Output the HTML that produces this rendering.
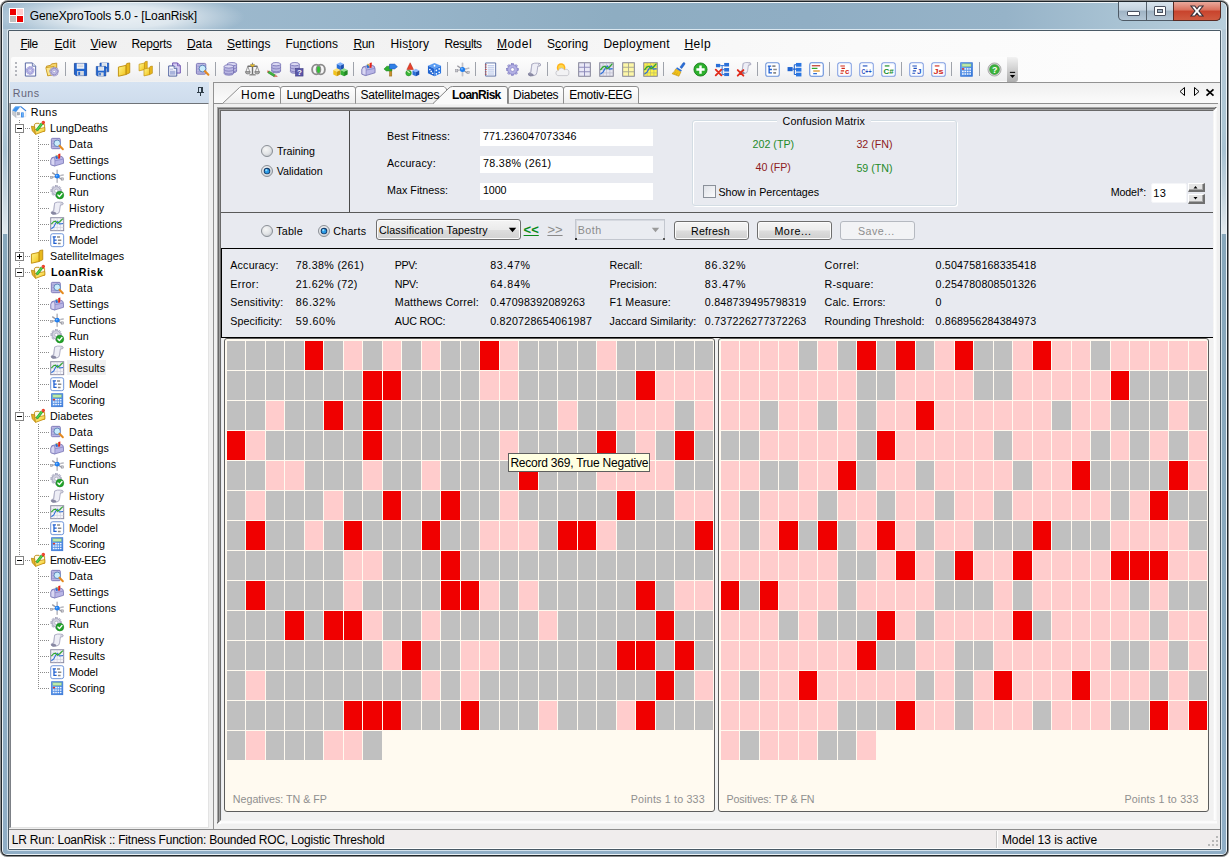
<!DOCTYPE html>
<html><head><meta charset="utf-8"><title>GeneXproTools 5.0 - [LoanRisk]</title>
<style>
html,body{margin:0;padding:0;background:#fff;}
body{width:1229px;height:857px;overflow:hidden;position:relative;font-family:"Liberation Sans",sans-serif;}
.t{position:absolute;white-space:pre;line-height:14px;font-family:"Liberation Sans",sans-serif;}
div,svg,span{box-sizing:border-box;}
u{text-decoration:underline;}
</style></head><body>

<div style="position:absolute;left:0px;top:0px;width:1229px;height:857px;border-radius:8px 8px 7px 7px;background:#8e8e8e;"></div>
<div style="position:absolute;left:1px;top:1px;width:1227px;height:855px;border-radius:7px 7px 6px 6px;background:#20262b;"></div>
<div style="position:absolute;left:2px;top:2px;width:1225px;height:853px;border-radius:6px 6px 5px 5px;background:#eef4f8;"></div>
<div style="position:absolute;left:3px;top:3px;width:1223px;height:851px;border-radius:5px 5px 4px 4px;background:linear-gradient(to bottom,#b6cad8 0px,#b4c8d6 37px,#acc6d4 127px,#a8c2d2 147px,#c4d4de 192px,#e2e9ed 230.500px,#87a7bb 231px,#8aaac0 600px,#90aec6 854px);"></div>
<div style="position:absolute;left:3px;top:3px;width:1223px;height:26px;border-radius:5px 5px 0 0;background:linear-gradient(to right,#a2bdd1 0%,#98b5ca 30%,#8eadc2 50%,#90aec4 66%,#96b3c8 82%,#a8c2d3 91%,#b9cfdc 100%);"></div>
<div style="position:absolute;left:3px;top:3px;width:1223px;height:26px;overflow:hidden;border-radius:5px 5px 0 0"><div style="position:absolute;left:-8px;top:-10px;width:250px;height:48px;background:radial-gradient(ellipse closest-side at center,rgba(255,255,255,.78) 0%,rgba(255,255,255,.66) 45%,rgba(255,255,255,.3) 75%,rgba(255,255,255,0) 100%)"></div></div>
<div style="position:absolute;left:3px;top:850px;width:1223px;height:4px;border-radius:0 0 4px 4px;background:#90aec6;"></div>
<div style="position:absolute;left:7px;top:29px;width:1215px;height:822px;background:rgba(232,242,248,.75);border-radius:2px;"></div>
<div style="position:absolute;left:9px;top:8px;width:15px;height:15px;background:#fff;"></div>
<div style="position:absolute;left:10px;top:9px;width:6px;height:6px;background:#ee0000;"></div>
<div style="position:absolute;left:17px;top:9px;width:6px;height:6px;background:#ffcccc;"></div>
<div style="position:absolute;left:10px;top:16px;width:6px;height:6px;background:#c0c0c0;"></div>
<div style="position:absolute;left:17px;top:16px;width:6px;height:6px;background:#ee0000;"></div>
<span class="t" style="left:29.7px;top:9px;font-size:12px;color:#000;letter-spacing:-0.093px;">GeneXproTools 5.0 - [LoanRisk]</span>
<div style="position:absolute;left:1118px;top:2px;width:103px;height:19px;border:1px solid #4e5a66;border-top:none;border-radius:0 0 5px 5px;background:linear-gradient(#d9e4ed 0%,#c5d3df 45%,#9fb3c4 50%,#b4c6d5 100%);"></div>
<div style="position:absolute;left:1173px;top:2px;width:48px;height:19px;border:1px solid #5a2a22;border-top:none;border-radius:0 0 5px 0;background:linear-gradient(#e9a99c 0%,#d9705c 45%,#c8432c 50%,#d05a40 100%);"></div>
<div style="position:absolute;left:1146px;top:2px;width:1px;height:18px;background:#56616c;"></div>
<div style="position:absolute;left:1127px;top:11px;width:13px;height:5px;background:#fff;border:1px solid #4a5160;border-radius:1px;"></div>
<div style="position:absolute;left:1154px;top:6px;width:12px;height:10px;background:#fff;border:1px solid #4a5160;border-radius:1px;"></div>
<div style="position:absolute;left:1157px;top:9px;width:6px;height:4px;background:#9fb3c4;border:1px solid #4a5160;"></div>
<svg style="position:absolute;left:1190px;top:5px" width="14" height="12" viewBox="0 0 14 12"><path d="M1 1h3.800L7 3.800 9.200 1H13L9 6l4 5H9.200L7 8.200 4.800 11H1L5 6z" fill="#fff" stroke="#3a3038" stroke-width="1.1"/></svg>
<div style="position:absolute;left:8px;top:30px;width:1213px;height:820px;background:#f0f0f0;border:1px solid #4a5a66;border-radius:1px;"></div>
<div style="position:absolute;left:9px;top:31px;width:1211px;height:1px;background:#fff;"></div>
<div style="position:absolute;left:9px;top:31px;width:1211px;height:51px;background:linear-gradient(to right,#f0f0f0 0%,#f3f3f3 35%,#fafafa 70%,#fdfdfd 100%);"></div>
<span class="t" style="left:20.4px;top:37px;font-size:12px;color:#000;letter-spacing:-0.553px;"><u>F</u>ile</span>
<span class="t" style="left:54.4px;top:37px;font-size:12px;color:#000;letter-spacing:0.166px;"><u>E</u>dit</span>
<span class="t" style="left:90.4px;top:37px;font-size:12px;color:#000;letter-spacing:0.129px;"><u>V</u>iew</span>
<span class="t" style="left:131.4px;top:37px;font-size:12px;color:#000;letter-spacing:-0.224px;">Rep<u>o</u>rts</span>
<span class="t" style="left:186.9px;top:37px;font-size:12px;color:#000;letter-spacing:-0.053px;"><u>D</u>ata</span>
<span class="t" style="left:226.9px;top:37px;font-size:12px;color:#000;letter-spacing:0.046px;"><u>S</u>ettings</span>
<span class="t" style="left:285.4px;top:37px;font-size:12px;color:#000;letter-spacing:0.080px;">Fu<u>n</u>ctions</span>
<span class="t" style="left:353.4px;top:37px;font-size:12px;color:#000;letter-spacing:-0.416px;"><u>R</u>un</span>
<span class="t" style="left:390.4px;top:37px;font-size:12px;color:#000;letter-spacing:0.223px;">His<u>t</u>ory</span>
<span class="t" style="left:444.4px;top:37px;font-size:12px;color:#000;letter-spacing:-0.389px;">Res<u>u</u>lts</span>
<span class="t" style="left:496.9px;top:37px;font-size:12px;color:#000;letter-spacing:0.503px;"><u>M</u>odel</span>
<span class="t" style="left:546.9px;top:37px;font-size:12px;color:#000;letter-spacing:0.083px;">S<u>c</u>oring</span>
<span class="t" style="left:603.4px;top:37px;font-size:12px;color:#000;letter-spacing:0.239px;">Deplo<u>y</u>ment</span>
<span class="t" style="left:684.4px;top:37px;font-size:12px;color:#000;letter-spacing:0.504px;"><u>H</u>elp</span>
<div style="position:absolute;left:11px;top:57px;width:1000px;height:24px;background:linear-gradient(#fdfdfd 0%,#f7f7f8 50%,#eeeeef 100%);border-radius:2px 0 0 2px;"></div>
<div style="position:absolute;left:1007px;top:57px;width:11px;height:25px;background:linear-gradient(#f2f2f2,#d0d0d0 50%,#acacac);border-radius:0 3px 3px 0;"></div>
<svg style="position:absolute;left:1009px;top:71px" width="7" height="8" viewBox="0 0 8 9"><path d="M1 1.500h6" stroke="#000" stroke-width="1.2"/><path d="M1 4.500h6L4 8z" fill="#000"/></svg>
<div style="position:absolute;left:15px;top:62px;width:2px;height:2px;background:#b4b6bc;"></div>
<div style="position:absolute;left:15px;top:66px;width:2px;height:2px;background:#b4b6bc;"></div>
<div style="position:absolute;left:15px;top:70px;width:2px;height:2px;background:#b4b6bc;"></div>
<div style="position:absolute;left:15px;top:74px;width:2px;height:2px;background:#b4b6bc;"></div>
<svg style="position:absolute;left:22.5px;top:61.7px;overflow:visible" width="15" height="15" viewBox="0 0 16 16"><path d="M2.500 1H10L13.500 4.500V15H2.500Z" fill="#fdfdff" stroke="#4f5f9f" stroke-width="1"/><path d="M10 1V4.500H13.500" fill="#dfe4f2" stroke="#4f5f9f" stroke-width=".8"/><g transform="translate(7.6,9.2)"><rect x="-1.2" y="-4.2" width="2.4" height="2.8" fill="#c4c1ea" stroke="#8f8bd0" stroke-width=".5" transform="rotate(0)"/><rect x="-1.2" y="-4.2" width="2.4" height="2.8" fill="#c4c1ea" stroke="#8f8bd0" stroke-width=".5" transform="rotate(45)"/><rect x="-1.2" y="-4.2" width="2.4" height="2.8" fill="#c4c1ea" stroke="#8f8bd0" stroke-width=".5" transform="rotate(90)"/><rect x="-1.2" y="-4.2" width="2.4" height="2.8" fill="#c4c1ea" stroke="#8f8bd0" stroke-width=".5" transform="rotate(135)"/><rect x="-1.2" y="-4.2" width="2.4" height="2.8" fill="#c4c1ea" stroke="#8f8bd0" stroke-width=".5" transform="rotate(180)"/><rect x="-1.2" y="-4.2" width="2.4" height="2.8" fill="#c4c1ea" stroke="#8f8bd0" stroke-width=".5" transform="rotate(225)"/><rect x="-1.2" y="-4.2" width="2.4" height="2.8" fill="#c4c1ea" stroke="#8f8bd0" stroke-width=".5" transform="rotate(270)"/><rect x="-1.2" y="-4.2" width="2.4" height="2.8" fill="#c4c1ea" stroke="#8f8bd0" stroke-width=".5" transform="rotate(315)"/><circle r="2.9" fill="#c4c1ea" stroke="#8f8bd0" stroke-width=".6"/><circle r="1.1019999999999999" fill="#fff" stroke="#8f8bd0" stroke-width=".5"/></g></svg>
<svg style="position:absolute;left:44.5px;top:61.7px;overflow:visible" width="15" height="15" viewBox="0 0 16 16"><path d="M1.5 4.5 L6 3.5 L7 2 L12.5 1.2 L12.5 12.5 L3 14.5Z" fill="#f6d56a" stroke="#bf8a12" stroke-width=".9"/><path d="M.8 6 L9.5 4.8 L11 13 L3 14.8Z" fill="#fbe58c" stroke="#c39214" stroke-width=".8"/><g transform="translate(9.8,10.2)"><rect x="-1.2" y="-4.7" width="2.4" height="2.8" fill="#c3c0e8" stroke="#7e7ab8" stroke-width=".5" transform="rotate(0)"/><rect x="-1.2" y="-4.7" width="2.4" height="2.8" fill="#c3c0e8" stroke="#7e7ab8" stroke-width=".5" transform="rotate(45)"/><rect x="-1.2" y="-4.7" width="2.4" height="2.8" fill="#c3c0e8" stroke="#7e7ab8" stroke-width=".5" transform="rotate(90)"/><rect x="-1.2" y="-4.7" width="2.4" height="2.8" fill="#c3c0e8" stroke="#7e7ab8" stroke-width=".5" transform="rotate(135)"/><rect x="-1.2" y="-4.7" width="2.4" height="2.8" fill="#c3c0e8" stroke="#7e7ab8" stroke-width=".5" transform="rotate(180)"/><rect x="-1.2" y="-4.7" width="2.4" height="2.8" fill="#c3c0e8" stroke="#7e7ab8" stroke-width=".5" transform="rotate(225)"/><rect x="-1.2" y="-4.7" width="2.4" height="2.8" fill="#c3c0e8" stroke="#7e7ab8" stroke-width=".5" transform="rotate(270)"/><rect x="-1.2" y="-4.7" width="2.4" height="2.8" fill="#c3c0e8" stroke="#7e7ab8" stroke-width=".5" transform="rotate(315)"/><circle r="3.4" fill="#c3c0e8" stroke="#7e7ab8" stroke-width=".6"/><circle r="1.292" fill="#fff" stroke="#7e7ab8" stroke-width=".5"/></g></svg>
<div style="position:absolute;left:65px;top:62px;width:1px;height:14px;background:#9fa3ab;"></div>
<svg style="position:absolute;left:72.5px;top:61.7px;overflow:visible" width="15" height="15" viewBox="0 0 16 16"><g transform="translate(0,0) scale(1)"><path d="M1.5 1.5H14.5V14.5H3L1.5 13Z" fill="#2366cf" stroke="#123f9a" stroke-width=".8"/><rect x="4" y="1.6" width="8" height="5.6" fill="#f4f6fa"/><path d="M5 3.3h6M5 5h6" stroke="#b5bcc8" stroke-width=".7"/><rect x="4.4" y="9.6" width="7.2" height="4.9" fill="#d4d8e0"/><rect x="5.6" y="10.4" width="2" height="3.4" fill="#2366cf"/></g></svg>
<svg style="position:absolute;left:94.5px;top:61.7px;overflow:visible" width="15" height="15" viewBox="0 0 16 16"><g transform="translate(4.2,0) scale(0.72)"><path d="M1.5 1.5H14.5V14.5H3L1.5 13Z" fill="#2366cf" stroke="#123f9a" stroke-width=".8"/><rect x="4" y="1.6" width="8" height="5.6" fill="#f4f6fa"/><path d="M5 3.3h6M5 5h6" stroke="#b5bcc8" stroke-width=".7"/><rect x="4.4" y="9.6" width="7.2" height="4.9" fill="#d4d8e0"/><rect x="5.6" y="10.4" width="2" height="3.4" fill="#2366cf"/></g><g transform="translate(0.2,3.6) scale(0.78)"><path d="M1.5 1.5H14.5V14.5H3L1.5 13Z" fill="#2366cf" stroke="#123f9a" stroke-width=".8"/><rect x="4" y="1.6" width="8" height="5.6" fill="#f4f6fa"/><path d="M5 3.3h6M5 5h6" stroke="#b5bcc8" stroke-width=".7"/><rect x="4.4" y="9.6" width="7.2" height="4.9" fill="#d4d8e0"/><rect x="5.6" y="10.4" width="2" height="3.4" fill="#2366cf"/></g></svg>
<svg style="position:absolute;left:116.5px;top:61.7px;overflow:visible" width="15" height="15" viewBox="0 0 16 16"><defs><linearGradient id="fg" x1="0" y1="0" x2="1" y2="1"><stop offset="0" stop-color="#fff68f"/><stop offset="1" stop-color="#f2c216"/></linearGradient></defs><path d="M9.500 3.600 L10.400 1.600 L13.600 1 L13.600 11.400 L9.500 13.400Z" fill="#e8b81c" stroke="#b8860b" stroke-width=".9"/><path d="M1.500 5.400 L9.500 3.600 L9.500 13.400 L1.500 15.200Z" fill="url(#fg)" stroke="#c08f0e" stroke-width="1"/></svg>
<svg style="position:absolute;left:138.5px;top:61.7px;overflow:visible" width="15" height="15" viewBox="0 0 16 16"><g transform="translate(-1,-1.5) scale(.72)"><defs><linearGradient id="fg" x1="0" y1="0" x2="1" y2="1"><stop offset="0" stop-color="#fff68f"/><stop offset="1" stop-color="#f2c216"/></linearGradient></defs><path d="M9.500 3.600 L10.400 1.600 L13.600 1 L13.600 11.400 L9.500 13.400Z" fill="#e8b81c" stroke="#b8860b" stroke-width=".9"/><path d="M1.500 5.400 L9.500 3.600 L9.500 13.400 L1.500 15.200Z" fill="url(#fg)" stroke="#c08f0e" stroke-width="1"/></g><g transform="translate(4.2,3.6) scale(.74)"><defs><linearGradient id="fg" x1="0" y1="0" x2="1" y2="1"><stop offset="0" stop-color="#fff68f"/><stop offset="1" stop-color="#f2c216"/></linearGradient></defs><path d="M9.500 3.600 L10.400 1.600 L13.600 1 L13.600 11.400 L9.500 13.400Z" fill="#e8b81c" stroke="#b8860b" stroke-width=".9"/><path d="M1.500 5.400 L9.500 3.600 L9.500 13.400 L1.500 15.200Z" fill="url(#fg)" stroke="#c08f0e" stroke-width="1"/></g></svg>
<div style="position:absolute;left:159px;top:62px;width:1px;height:14px;background:#9fa3ab;"></div>
<svg style="position:absolute;left:166.5px;top:61.7px;overflow:visible" width="15" height="15" viewBox="0 0 16 16"><path d="M6 1H11.200L14.200 4V11.800H6Z" fill="#d5cdf2" stroke="#6b4fb0" stroke-width="1"/><path d="M11.200 1V4H14.200" fill="none" stroke="#6b4fb0" stroke-width=".8"/><path d="M1.800 4.200H7.600L10.400 7V15H1.800Z" fill="#fbfbff" stroke="#44599a" stroke-width="1"/><path d="M7.600 4.200V7H10.400" fill="#e4e8f6" stroke="#44599a" stroke-width=".8"/><rect x="3.200" y="9.200" width="5.800" height="4.400" fill="#a9b4dc"/><path d="M3.200 7.600h3.400" stroke="#8e9bc8" stroke-width=".8"/></svg>
<div style="position:absolute;left:187px;top:62px;width:1px;height:14px;background:#9fa3ab;"></div>
<svg style="position:absolute;left:194.5px;top:61.7px;overflow:visible" width="15" height="15" viewBox="0 0 16 16"><rect x="1.5" y="1.5" width="10" height="11.5" rx="1.2" fill="#b9b6e2" stroke="#6f6bb0" stroke-width=".9"/><path d="M2.5 4.5h8M2.5 7.5h8M2.5 10.5h8" stroke="#8f8bc8" stroke-width=".7"/><circle cx="8" cy="7" r="3.6" fill="#c8ecfb" stroke="#5a7fb5" stroke-width="1"/><path d="M10.6 9.8 L14.3 13.6" stroke="#e58a1f" stroke-width="2.2" stroke-linecap="round"/></svg>
<div style="position:absolute;left:215px;top:62px;width:1px;height:14px;background:#9fa3ab;"></div>
<svg style="position:absolute;left:222.5px;top:61.7px;overflow:visible" width="15" height="15" viewBox="0 0 16 16"><path d="M4.5 2.3V9.8A5.0 1.8 0 0 0 14.5 9.8V2.3Z" fill="#b9b6e2" stroke="#6f6bb0" stroke-width=".8"/><ellipse cx="9.5" cy="2.3" rx="5.0" ry="1.8" fill="#dcdaf3" stroke="#6f6bb0" stroke-width=".8"/><path d="M4.5 5.6A5.0 1.8 0 0 0 14.5 5.6M4.5 8.6A5.0 1.8 0 0 0 14.5 8.6" fill="none" stroke="#6f6bb0" stroke-width=".7"/><path d="M1.2 4.7V12.3A5.0 1.8 0 0 0 11.2 12.3V4.7Z" fill="#b9b6e2" stroke="#6f6bb0" stroke-width=".8"/><ellipse cx="6.2" cy="4.7" rx="5.0" ry="1.8" fill="#dcdaf3" stroke="#6f6bb0" stroke-width=".8"/><path d="M1.2 8.0A5.0 1.8 0 0 0 11.2 8.0M1.2 11.0A5.0 1.8 0 0 0 11.2 11.0" fill="none" stroke="#6f6bb0" stroke-width=".7"/></svg>
<svg style="position:absolute;left:244.5px;top:61.7px;overflow:visible" width="15" height="15" viewBox="0 0 16 16"><path d="M8 2.500V13M2.800 4.600H13.200" stroke="#6e6e6e" stroke-width="1.500"/><path d="M4.500 14.400H11.500V13.200Q8 11.800 4.500 13.200Z" fill="#8a8a8a"/><path d="M3 4.600L.9 10.500H5.100Z M13 4.600L10.900 10.500H15.100Z" fill="none" stroke="#7a7a7a" stroke-width=".8"/><path d="M.4 10.400H5.600A2.600 2.400 0 0 1 .4 10.400ZM10.400 10.400H15.600A2.600 2.400 0 0 1 10.400 10.400Z" fill="#b4b4b4" stroke="#6a6a6a" stroke-width=".7"/><path d="M5.800 2.600H10.200L9 4.800H7Z" fill="#f0c830" stroke="#a98310" stroke-width=".5"/><rect x="7.400" y=".8" width="1.200" height="2" fill="#8a8a8a"/></svg>
<svg style="position:absolute;left:266.5px;top:61.7px;overflow:visible" width="15" height="15" viewBox="0 0 16 16"><path d="M5 2.3V9.8A4.75 1.8 0 0 0 14.5 9.8V2.3Z" fill="#b9b6e2" stroke="#6f6bb0" stroke-width=".8"/><ellipse cx="9.75" cy="2.3" rx="4.75" ry="1.8" fill="#dcdaf3" stroke="#6f6bb0" stroke-width=".8"/><path d="M5 5.6A4.75 1.8 0 0 0 14.5 5.6M5 8.6A4.75 1.8 0 0 0 14.5 8.6" fill="none" stroke="#6f6bb0" stroke-width=".7"/><path d="M2 9.5L9 13.8L7.6 15.6L.8 11.4Z" fill="#3fb83f" stroke="#1f7a1f" stroke-width=".6"/><path d="M9 13.8l2 1.6-3.4.2Z" fill="#f0b0a0" stroke="#c0392b" stroke-width=".5"/><path d="M.8 11.4L2 9.5L.3 9Z" fill="#e03a2a"/></svg>
<svg style="position:absolute;left:288.5px;top:61.7px;overflow:visible" width="15" height="15" viewBox="0 0 16 16"><path d="M1.5 2.3V10.3A4.75 1.8 0 0 0 11.0 10.3V2.3Z" fill="#b9b6e2" stroke="#6f6bb0" stroke-width=".8"/><ellipse cx="6.25" cy="2.3" rx="4.75" ry="1.8" fill="#dcdaf3" stroke="#6f6bb0" stroke-width=".8"/><path d="M1.5 5.6A4.75 1.8 0 0 0 11.0 5.6M1.5 8.6A4.75 1.8 0 0 0 11.0 8.6" fill="none" stroke="#6f6bb0" stroke-width=".7"/><rect x="7" y="7" width="8" height="8" fill="#5a56a8" stroke="#3d3a80" stroke-width=".6"/><text x="8.6" y="14.2" font-family="Liberation Sans, sans-serif" font-weight="bold" font-size="8.5" fill="#fff">?</text></svg>
<svg style="position:absolute;left:310.5px;top:61.7px;overflow:visible" width="15" height="15" viewBox="0 0 16 16"><ellipse cx="5.6" cy="8" rx="4.4" ry="5.2" fill="none" stroke="#8c8c8c" stroke-width="2"/><ellipse cx="10.4" cy="8" rx="4.4" ry="5.2" fill="none" stroke="#8c8c8c" stroke-width="2"/><ellipse cx="8" cy="8" rx="1.7" ry="3.6" fill="#34c034"/></svg>
<svg style="position:absolute;left:332.5px;top:61.7px;overflow:visible" width="15" height="15" viewBox="0 0 16 16"><g transform="translate(4,0.3) scale(0.95)"><path d="M0 2L4 0L8 2L4 4Z" fill="#7fb2ff"/><path d="M0 2L4 4V9L0 7Z" fill="#2a6fd8"/><path d="M8 2L4 4V9L8 7Z" fill="#1a4fb0"/></g><g transform="translate(0.3,6.6) scale(0.95)"><path d="M0 2L4 0L8 2L4 4Z" fill="#ffe57a"/><path d="M0 2L4 4V9L0 7Z" fill="#f2c21a"/><path d="M8 2L4 4V9L8 7Z" fill="#c8980a"/></g><g transform="translate(8,6.6) scale(0.95)"><path d="M0 2L4 0L8 2L4 4Z" fill="#8fe08a"/><path d="M0 2L4 4V9L0 7Z" fill="#33b033"/><path d="M8 2L4 4V9L8 7Z" fill="#1f8a22"/></g></svg>
<div style="position:absolute;left:353px;top:62px;width:1px;height:14px;background:#9fa3ab;"></div>
<svg style="position:absolute;left:360.5px;top:61.7px;overflow:visible" width="15" height="15" viewBox="0 0 16 16"><path d="M1 8 Q1 4.5 4.5 4.5 L12 3.5 Q15 4 15 7.5 L15 11.5 L5 14.5 L1 13Z" fill="#b8b5e6" stroke="#6b68ad" stroke-width=".8"/><path d="M1 8 Q1.5 5 4.8 5 Q5.8 6.5 5.4 14.3 L1 13Z" fill="#d9d7f3" stroke="#6b68ad" stroke-width=".6"/><path d="M9.2 1 L11.6 .6 L11.2 6 L9 6.4Z" fill="#e3261c"/><path d="M6 3 L8.4 2.2 L8.8 6.2 L6.6 6.6Z" fill="#2a6fd0"/><path d="M7 2 L9 4.2" stroke="#f1c02a" stroke-width="1.1"/><path d="M5.4 8.6 L15 6.8" stroke="#8784c4" stroke-width=".8"/></svg>
<svg style="position:absolute;left:382.5px;top:61.7px;overflow:visible" width="15" height="15" viewBox="0 0 16 16"><rect x="7" y="3" width="2.4" height="12" fill="#c8922a" stroke="#8a5f10" stroke-width=".5"/><path d="M1 7.5L4 4.5H9.4V9.6H3.5Z" fill="#2fae2f" stroke="#1a7a1a" stroke-width=".5"/><path d="M7 2.2H12.5L15.4 5L12.5 7.4H7Z" fill="#2f7fe6" stroke="#1a4fb0" stroke-width=".5"/></svg>
<svg style="position:absolute;left:404.5px;top:61.7px;overflow:visible" width="15" height="15" viewBox="0 0 16 16"><path d="M5.5 .8L9 8H2Z" fill="#e8412a" stroke="#a82010" stroke-width=".5"/><circle cx="3.8" cy="11.8" r="3" fill="#38b838" stroke="#1f7a1f" stroke-width=".5"/><g transform="translate(8,7.2) scale(0.9)"><path d="M0 2L4 0L8 2L4 4Z" fill="#8fb8ff"/><path d="M0 2L4 4V9L0 7Z" fill="#2a6fd8"/><path d="M8 2L4 4V9L8 7Z" fill="#1a4fb0"/></g><path d="M2.5 9.5l2.5 2.2" stroke="#f3f7d0" stroke-width="1.1"/></svg>
<svg style="position:absolute;left:426.5px;top:61.7px;overflow:visible" width="15" height="15" viewBox="0 0 16 16"><path d="M1 4L8 1L15 4L8 7.2Z" fill="#5a9cf2"/><path d="M1 4L8 7.2V15.3L1 12Z" fill="#1f63d0"/><path d="M15 4L8 7.2V15.3L15 12Z" fill="#2a76e2"/><g fill="#fff"><circle cx="3" cy="8" r=".9"/><circle cx="6" cy="12" r=".9"/><circle cx="4.5" cy="10" r=".9"/><circle cx="10" cy="9" r=".9"/><circle cx="13" cy="7.4" r=".9"/><circle cx="10" cy="12.6" r=".9"/><circle cx="13" cy="11" r=".9"/><circle cx="8" cy="4" r="1"/></g></svg>
<div style="position:absolute;left:447px;top:62px;width:1px;height:14px;background:#9fa3ab;"></div>
<svg style="position:absolute;left:454.5px;top:61.7px;overflow:visible" width="15" height="15" viewBox="0 0 16 16"><path d="M8 .8V15.2M.8 9.5L15.2 6.5M2.5 4L13.5 12" stroke="#9a9aa2" stroke-width="1.5"/><path d="M8 .8V15.2M.8 9.5L15.2 6.5" stroke="#e3e3e8" stroke-width=".6"/><rect x="12.8" y="9.8" width="2.4" height="2.6" fill="#c8c8d0" stroke="#8a8a92" stroke-width=".5"/><rect x=".8" y="8.2" width="2.2" height="2.4" fill="#c8c8d0" stroke="#8a8a92" stroke-width=".5"/><circle cx="8" cy="8" r="2.7" fill="#1e7df0"/><circle cx="7.4" cy="7.3" r="1" fill="#7fc0ff"/></svg>
<div style="position:absolute;left:475px;top:62px;width:1px;height:14px;background:#9fa3ab;"></div>
<svg style="position:absolute;left:482.5px;top:61.7px;overflow:visible" width="15" height="15" viewBox="0 0 16 16"><path d="M2.8 1H13.5V15H2.8Z" fill="#fbfcff" stroke="#4a5f9a" stroke-width=".9"/><path d="M5 4h7M5 6.2h7M5 8.4h7M5 10.6h7M5 12.8h7" stroke="#8aa0d8" stroke-width=".7"/><path d="M2 3h2M2 5.5h2M2 8h2M2 10.5h2M2 13h2" stroke="#c0392b" stroke-width=".8"/></svg>
<svg style="position:absolute;left:504.5px;top:61.7px;overflow:visible" width="15" height="15" viewBox="0 0 16 16"><g transform="translate(8,8)"><rect x="-1.2" y="-6.5" width="2.4" height="2.8" fill="#b3b0e4" stroke="#6f6bb5" stroke-width=".5" transform="rotate(0)"/><rect x="-1.2" y="-6.5" width="2.4" height="2.8" fill="#b3b0e4" stroke="#6f6bb5" stroke-width=".5" transform="rotate(45)"/><rect x="-1.2" y="-6.5" width="2.4" height="2.8" fill="#b3b0e4" stroke="#6f6bb5" stroke-width=".5" transform="rotate(90)"/><rect x="-1.2" y="-6.5" width="2.4" height="2.8" fill="#b3b0e4" stroke="#6f6bb5" stroke-width=".5" transform="rotate(135)"/><rect x="-1.2" y="-6.5" width="2.4" height="2.8" fill="#b3b0e4" stroke="#6f6bb5" stroke-width=".5" transform="rotate(180)"/><rect x="-1.2" y="-6.5" width="2.4" height="2.8" fill="#b3b0e4" stroke="#6f6bb5" stroke-width=".5" transform="rotate(225)"/><rect x="-1.2" y="-6.5" width="2.4" height="2.8" fill="#b3b0e4" stroke="#6f6bb5" stroke-width=".5" transform="rotate(270)"/><rect x="-1.2" y="-6.5" width="2.4" height="2.8" fill="#b3b0e4" stroke="#6f6bb5" stroke-width=".5" transform="rotate(315)"/><circle r="5.2" fill="#b3b0e4" stroke="#6f6bb5" stroke-width=".6"/><circle r="1.9760000000000002" fill="#fff" stroke="#6f6bb5" stroke-width=".5"/></g></svg>
<svg style="position:absolute;left:526.5px;top:61.7px;overflow:visible" width="15" height="15" viewBox="0 0 16 16"><path d="M5.200 2.200 Q8 .8 11.500 1.200 Q14.800 1 14.600 3.200 Q14.500 4.600 12.400 4.400 L11.600 4.300 L10.600 11 Q10.400 14 7.600 14.400 L3.400 14.800 Q1.200 14.400 1.400 12.600 Q1.800 11 4 11.200 Z" fill="#eeeef6" stroke="#9494b0" stroke-width=".8"/><path d="M5.200 2.200 L4 11.200" stroke="#b0b0c8" stroke-width=".6"/><path d="M1.600 12.400 Q3.600 11.600 6 12.800 Q7 13.600 6.600 14.500 L3.400 14.800 Q1.200 14.400 1.600 12.400Z" fill="#8c8ca6" stroke="#70708c" stroke-width=".5"/><circle cx="13.200" cy="2.800" r="1" fill="#fff" stroke="#8c8ca8" stroke-width=".6"/></svg>
<div style="position:absolute;left:547px;top:62px;width:1px;height:14px;background:#9fa3ab;"></div>
<svg style="position:absolute;left:554.5px;top:61.7px;overflow:visible" width="15" height="15" viewBox="0 0 16 16"><circle cx="6.5" cy="6" r="4.6" fill="#ffb21a"/><circle cx="6.5" cy="6" r="3" fill="#ffd84a"/><path d="M3 14.5A2.8 2.8 0 0 1 3.6 9A3.4 3.4 0 0 1 10 8.4A3 3 0 0 1 14.8 11.5A2.6 2.6 0 0 1 13 14.5Z" fill="#f2f2f4" stroke="#b5b5bd" stroke-width=".7"/></svg>
<svg style="position:absolute;left:576.5px;top:61.7px;overflow:visible" width="15" height="15" viewBox="0 0 16 16"><rect x="1.8" y=".8" width="12.4" height="14.4" fill="#e9e8f6" stroke="#7d7d92" stroke-width="1"/><path d="M8 1v14M2 5.600h12M2 10.400h12" stroke="#8a88b8" stroke-width="1"/></svg>
<svg style="position:absolute;left:598.5px;top:61.7px;overflow:visible" width="15" height="15" viewBox="0 0 16 16"><rect x=".8" y=".8" width="14.4" height="14.4" fill="#e8e8f2" stroke="#7d7d92" stroke-width="1"/><path d="M4.4 1v14M8 1v14M11.6 1v14M1 4.4h14M1 8h14M1 11.6h14" stroke="#b8b8cc" stroke-width=".7"/><path d="M1.5 13 L4.5 10.5 L7 6 L9 4.5 L11 7.5 L14.5 7" fill="none" stroke="#2d6fd8" stroke-width="1.3"/><path d="M1.5 8.5 L4 5.5 L6.5 4.5 L8.5 7 L11 5.5 L14.3 1.8" fill="none" stroke="#2fa52f" stroke-width="1.4"/></svg>
<svg style="position:absolute;left:620.5px;top:61.7px;overflow:visible" width="15" height="15" viewBox="0 0 16 16"><rect x="1.8" y=".8" width="12.4" height="14.4" fill="#fdf7a8" stroke="#7d7d92" stroke-width="1"/><path d="M8 1v14M2 5.600h12M2 10.400h12" stroke="#a8a890" stroke-width="1"/></svg>
<svg style="position:absolute;left:642.5px;top:61.7px;overflow:visible" width="15" height="15" viewBox="0 0 16 16"><rect x=".8" y=".8" width="14.4" height="14.4" fill="#fff24a" stroke="#7d7d92" stroke-width="1"/><path d="M4.4 1v14M8 1v14M11.6 1v14M1 4.4h14M1 8h14M1 11.6h14" stroke="#b8b870" stroke-width=".7"/><path d="M1.5 13 L4.5 10.5 L7 6 L9 4.5 L11 7.5 L14.5 7" fill="none" stroke="#2d6fd8" stroke-width="1.3"/><path d="M1.5 8.5 L4 5.5 L6.5 4.5 L8.5 7 L11 5.5 L14.3 1.8" fill="none" stroke="#2fa52f" stroke-width="1.4"/></svg>
<div style="position:absolute;left:663px;top:62px;width:1px;height:14px;background:#9fa3ab;"></div>
<svg style="position:absolute;left:670.5px;top:61.7px;overflow:visible" width="15" height="15" viewBox="0 0 16 16"><path d="M9.5 5.5L13 .8Q14.8 .2 15 2L11.5 7Z" fill="#2a6fd8" stroke="#1a4fb0" stroke-width=".5"/><path d="M6.4 5.6L11.6 8.8L10.6 10.4L5.4 7.2Z" fill="#2a6fd8"/><path d="M5 7.4L10.6 10.6L8.4 15.2L1 12.4Q3.8 10.6 5 7.4Z" fill="#f2c21a" stroke="#b98a10" stroke-width=".6"/><path d="M3.4 13l1.6-2.6M5.6 13.8l1.4-2.4" stroke="#c89a12" stroke-width=".6"/></svg>
<svg style="position:absolute;left:692.5px;top:61.7px;overflow:visible" width="15" height="15" viewBox="0 0 16 16"><circle cx="8" cy="8" r="7" fill="#2cb02c" stroke="#157a18" stroke-width=".9"/><path d="M8 3.6V12.4M3.6 8H12.4" stroke="#fff" stroke-width="2.6"/></svg>
<svg style="position:absolute;left:714.5px;top:61.7px;overflow:visible" width="15" height="15" viewBox="0 0 16 16"><rect x="1" y="2" width="4.6" height="3.6" fill="#2a6fd8"/><rect x="9.8" y="1" width="5.2" height="3.8" fill="#2a6fd8"/><rect x="9.8" y="6.4" width="5.2" height="3.8" fill="#2a6fd8"/><rect x="9.8" y="11.6" width="5.2" height="3.4" fill="#2a6fd8"/><path d="M5.6 3.8H9.8M7.6 3.8V13.4H9.8M7.6 8.2H9.8" fill="none" stroke="#2a6fd8" stroke-width="1"/><path d="M0.8 8.2l6.0 6.0M6.8 8.2l-6.0 6.0" stroke="#e02a1a" stroke-width="2" stroke-linecap="round"/></svg>
<svg style="position:absolute;left:736.5px;top:61.7px;overflow:visible" width="15" height="15" viewBox="0 0 16 16"><g transform="translate(2,-.5) scale(.88)"><path d="M5.200 2.200 Q8 .8 11.500 1.200 Q14.800 1 14.600 3.200 Q14.500 4.600 12.400 4.400 L11.600 4.300 L10.600 11 Q10.400 14 7.600 14.400 L3.400 14.800 Q1.200 14.400 1.400 12.600 Q1.800 11 4 11.200 Z" fill="#eeeef6" stroke="#9494b0" stroke-width=".8"/><path d="M5.200 2.200 L4 11.200" stroke="#b0b0c8" stroke-width=".6"/><path d="M1.600 12.400 Q3.600 11.600 6 12.800 Q7 13.600 6.600 14.500 L3.400 14.800 Q1.200 14.400 1.600 12.400Z" fill="#8c8ca6" stroke="#70708c" stroke-width=".5"/><circle cx="13.200" cy="2.800" r="1" fill="#fff" stroke="#8c8ca8" stroke-width=".6"/></g><path d="M0.8 8.6l6.0 6.0M6.8 8.6l-6.0 6.0" stroke="#e02a1a" stroke-width="2" stroke-linecap="round"/></svg>
<div style="position:absolute;left:757px;top:62px;width:1px;height:14px;background:#9fa3ab;"></div>
<svg style="position:absolute;left:764.5px;top:61.7px;overflow:visible" width="15" height="15" viewBox="0 0 16 16"><rect x=".8" y=".8" width="14.400" height="14.400" rx="2.200" fill="#f2f7ff" stroke="#6e94d8" stroke-width="1.1"/><rect x="1.900" y="1.900" width="12.200" height="12.200" rx="1.300" fill="#fff"/><path d="M3 4.400H6.600M4.400 4.400V11.600H7.400M4.400 8H7.400" fill="none" stroke="#1f5fd0" stroke-width="1.400"/><path d="M7.800 4.400h3.400M8.800 8h3.800M8.800 11.600h3" stroke="#8a8a8a" stroke-width="1.700"/></svg>
<svg style="position:absolute;left:786.5px;top:61.7px;overflow:visible" width="15" height="15" viewBox="0 0 16 16"><rect x=".6" y="5.4" width="5.4" height="4.4" fill="#1f63d0"/><rect x="9.6" y="1" width="5.8" height="4" fill="#2a76e2"/><rect x="9.6" y="6.2" width="5.8" height="4" fill="#2a76e2"/><rect x="9.6" y="11.4" width="5.8" height="4" fill="#2a76e2"/><path d="M6 7.6H9.6M7.8 3V13.4M7.8 3H9.6M7.8 13.4H9.6" fill="none" stroke="#1f63d0" stroke-width="1.1"/></svg>
<svg style="position:absolute;left:808.5px;top:61.7px;overflow:visible" width="15" height="15" viewBox="0 0 16 16"><rect x=".8" y=".8" width="14.4" height="14.4" rx="2" fill="#fff" stroke="#5a86d8" stroke-width="1.1"/><path d="M3 4h9" stroke="#c0392b" stroke-width="1.3"/><path d="M3 6.8h6" stroke="#2fa52f" stroke-width="1.3"/><path d="M4.5 9.6h7" stroke="#d88a1a" stroke-width="1.3"/><path d="M4.5 12.4h4" stroke="#2a6fd8" stroke-width="1.3"/></svg>
<div style="position:absolute;left:829px;top:62px;width:1px;height:14px;background:#9fa3ab;"></div>
<svg style="position:absolute;left:836.5px;top:61.7px;overflow:visible" width="15" height="15" viewBox="0 0 16 16"><rect x=".8" y=".8" width="14.4" height="14.4" rx="2.2" fill="#f4f8ff" stroke="#7d9be0" stroke-width="1.1"/><rect x="1.8" y="1.8" width="12.4" height="12.4" rx="1.4" fill="#fff" stroke="#dfe8fb" stroke-width=".6"/><path d="M3.600 4.200h4.800M4.800 6.800h3.600M4 9.400h3.600M3.600 12h3" stroke="#d02818" stroke-width="1.200"/><text x="8.6" y="13.2" font-family="Liberation Sans, sans-serif" font-weight="bold" font-size="8.5" fill="#d02818">c</text></svg>
<svg style="position:absolute;left:858.5px;top:61.7px;overflow:visible" width="15" height="15" viewBox="0 0 16 16"><rect x=".8" y=".8" width="14.4" height="14.4" rx="2.2" fill="#f4f8ff" stroke="#7d9be0" stroke-width="1.1"/><rect x="1.8" y="1.8" width="12.4" height="12.4" rx="1.4" fill="#fff" stroke="#dfe8fb" stroke-width=".6"/><path d="M4 4.200h5" stroke="#1f4fc0" stroke-width="1.200"/><text x="2.6" y="13" font-family="Liberation Sans, sans-serif" font-weight="bold" font-size="8.6" fill="#1f4fc0" textLength="10.8" lengthAdjust="spacingAndGlyphs">C++</text></svg>
<svg style="position:absolute;left:880.5px;top:61.7px;overflow:visible" width="15" height="15" viewBox="0 0 16 16"><rect x=".8" y=".8" width="14.4" height="14.4" rx="2.2" fill="#f4f8ff" stroke="#7d9be0" stroke-width="1.1"/><rect x="1.8" y="1.8" width="12.4" height="12.4" rx="1.4" fill="#fff" stroke="#dfe8fb" stroke-width=".6"/><path d="M4 4.200h5" stroke="#138a1e" stroke-width="1.200"/><text x="2.6" y="13" font-family="Liberation Sans, sans-serif" font-weight="bold" font-size="8.6" fill="#138a1e" textLength="10.8" lengthAdjust="spacingAndGlyphs">C#</text></svg>
<div style="position:absolute;left:901px;top:62px;width:1px;height:14px;background:#9fa3ab;"></div>
<svg style="position:absolute;left:908.5px;top:61.7px;overflow:visible" width="15" height="15" viewBox="0 0 16 16"><rect x=".8" y=".8" width="14.4" height="14.4" rx="2.2" fill="#f4f8ff" stroke="#7d9be0" stroke-width="1.1"/><rect x="1.8" y="1.8" width="12.4" height="12.4" rx="1.4" fill="#fff" stroke="#dfe8fb" stroke-width=".6"/><path d="M3.600 4.200h4.800M4.800 6.800h3.600M4 9.400h3.600M3.600 12h3" stroke="#1f4fc0" stroke-width="1.200"/><text x="8.6" y="13.2" font-family="Liberation Sans, sans-serif" font-weight="bold" font-size="8.5" fill="#1f4fc0">J</text></svg>
<svg style="position:absolute;left:930.5px;top:61.7px;overflow:visible" width="15" height="15" viewBox="0 0 16 16"><rect x=".8" y=".8" width="14.4" height="14.4" rx="2.2" fill="#f4f8ff" stroke="#7d9be0" stroke-width="1.1"/><rect x="1.8" y="1.8" width="12.4" height="12.4" rx="1.4" fill="#fff" stroke="#dfe8fb" stroke-width=".6"/><path d="M4 4.200h5" stroke="#d02818" stroke-width="1.200"/><text x="2.6" y="13" font-family="Liberation Sans, sans-serif" font-weight="bold" font-size="8.6" fill="#d02818" textLength="10.8" lengthAdjust="spacingAndGlyphs">Js</text></svg>
<div style="position:absolute;left:951px;top:62px;width:1px;height:14px;background:#9fa3ab;"></div>
<svg style="position:absolute;left:958.5px;top:61.7px;overflow:visible" width="15" height="15" viewBox="0 0 16 16"><defs><linearGradient id="cg" x1="0" y1="0" x2="1" y2="1"><stop offset="0" stop-color="#7fb4f6"/><stop offset="1" stop-color="#2f72d8"/></linearGradient></defs><rect x="1.800" y=".8" width="12.400" height="14.400" fill="url(#cg)" stroke="#3a78d8" stroke-width=".9"/><rect x="3.200" y="2" width="9.600" height="3" fill="#bfeaa6" stroke="#6fb06a" stroke-width=".4"/><rect x="3.200" y="6.600" width="2.400" height="1.600" fill="#e0392b"/><rect x="3.2" y="9.3" width="1.800" height="1.600" fill="#f3f7ff"/><rect x="3.2" y="12.0" width="1.800" height="1.600" fill="#f3f7ff"/><rect x="5.800000000000001" y="6.6" width="1.800" height="1.600" fill="#f3f7ff"/><rect x="5.800000000000001" y="9.3" width="1.800" height="1.600" fill="#f3f7ff"/><rect x="5.800000000000001" y="12.0" width="1.800" height="1.600" fill="#f3f7ff"/><rect x="8.4" y="6.6" width="1.800" height="1.600" fill="#f3f7ff"/><rect x="8.4" y="9.3" width="1.800" height="1.600" fill="#f3f7ff"/><rect x="8.4" y="12.0" width="1.800" height="1.600" fill="#f3f7ff"/><rect x="11.0" y="6.6" width="1.800" height="1.600" fill="#f3f7ff"/><rect x="11.0" y="9.3" width="1.800" height="1.600" fill="#f3f7ff"/><rect x="11.0" y="12.0" width="1.800" height="1.600" fill="#f3f7ff"/></svg>
<div style="position:absolute;left:979px;top:62px;width:1px;height:14px;background:#9fa3ab;"></div>
<svg style="position:absolute;left:986.5px;top:61.7px;overflow:visible" width="15" height="15" viewBox="0 0 16 16"><circle cx="8" cy="8" r="7" fill="#d8d8d8" stroke="#9a9a9a" stroke-width=".8"/><circle cx="8" cy="8" r="5.2" fill="#3cb43c" stroke="#1f8a22" stroke-width=".6"/><text x="5.3" y="11.4" font-family="Liberation Sans, sans-serif" font-weight="bold" font-size="9.5" fill="#fff">?</text></svg>
<div style="position:absolute;left:10px;top:82px;width:199px;height:21px;background:linear-gradient(to bottom,#d6e3f2,#cedcec);"></div>
<span class="t" style="left:12.8px;top:86px;font-size:10.7px;color:#65657a;letter-spacing:0.449px;">Runs</span>
<svg style="position:absolute;left:196px;top:86px" width="10" height="11" viewBox="0 0 10 11" shape-rendering="crispEdges"><g fill="#2f3d48"><rect x="2" y="1" width="1" height="5"/><rect x="2" y="1" width="5" height="1"/><rect x="5" y="1" width="2" height="5"/><rect x="1" y="6" width="7" height="1"/><rect x="4" y="7" width="1" height="3"/></g></svg>
<div style="position:absolute;left:9px;top:103px;width:1px;height:725px;background:#a3a3a3;"></div>
<div style="position:absolute;left:10px;top:103px;width:199px;height:725px;background:#fff;border:1px solid #e3e3e3;border-top:1px solid #6f7378;border-left:1px solid #7c8086;"></div>
<div style="position:absolute;left:19px;top:120px;width:1px;height:436px;background-image:repeating-linear-gradient(to bottom,#8a8a8a 0 1px,transparent 1px 2px);"></div>
<svg style="position:absolute;left:12px;top:105.8px;overflow:visible" width="14.5" height="12.5" viewBox="0 0 14.5 12.5"><path d="M4 5.800 L8.500 .9 L13.800 5.200 V10.600 L4 11.800Z" fill="#fbfbfc" stroke="#d5d9e0" stroke-width=".6"/><path d="M.3 4.900 L4 6.200 V11.400 L.5 8.800Z" fill="#c6cad0" stroke="#a9aeb6" stroke-width=".4"/><path d="M.2 4.400 L3.200 .4 L8.500 .2 L4 5.900Z" fill="#3f92ea"/><path d="M.8 4 L3.400 .8 L7.600 .6" fill="none" stroke="#7fbcf8" stroke-width=".7"/><path d="M8.500 .3 L14 4.900" stroke="#2f7ddc" stroke-width="1.100"/><rect x="5.200" y="6.400" width="2.500" height="2.600" fill="#a9afb9" stroke="#8d939d" stroke-width=".4"/><rect x="9.100" y="6.400" width="2.600" height="5" fill="#2f86ea"/><rect x="10" y="7" width=".7" height="3.600" fill="#8cc4fa"/></svg>
<span class="t" style="left:30.7px;top:105px;font-size:10.7px;color:#000;letter-spacing:0.482px;">Runs</span>
<div style="position:absolute;left:25px;top:128px;width:6px;height:1px;background-image:repeating-linear-gradient(to right,#8a8a8a 0 1px,transparent 1px 2px);"></div>
<div style="position:absolute;left:15px;top:124px;width:9px;height:9px;background:#fff;border:1px solid #848484;"></div>
<div style="position:absolute;left:17px;top:128px;width:5px;height:1px;background:#000;"></div>
<svg style="position:absolute;left:31px;top:121px;overflow:visible" width="15" height="14" viewBox="0 0 15 14"><defs><linearGradient id="fo" x1="0" y1="0" x2="1" y2="1"><stop offset="0" stop-color="#fff6a0"/><stop offset="1" stop-color="#f4c61c"/></linearGradient></defs><path d="M3.400 3.400 L5 2.300 H8 L9 3.400 H13.600 V10.400 H3.400Z" fill="#fffbe6" stroke="#c08a10" stroke-width=".9"/><path d="M.4 5.200 L3.700 5.900 L4.500 13.300 L1.300 9.800Z" fill="#e6b42a" stroke="#b8860b" stroke-width=".8"/><path d="M3.900 8.700 L13.800 6.500 L13.900 9.900 L4.500 13.400Z" fill="url(#fo)" stroke="#c08a10" stroke-width=".8"/><path d="M5.700 9.500 L11 2.500" stroke="#1f8f1f" stroke-width="2.800" stroke-linecap="butt"/><path d="M5.700 9.500 L11 2.500" stroke="#4fd24f" stroke-width="1.700"/><path d="M11 2.500 L11.700 1.600" stroke="#f2f2f2" stroke-width="2.400"/><circle cx="12.300" cy="1.500" r="1.700" fill="#e8341c"/><circle cx="11.900" cy="1.100" r=".6" fill="#ff8a70"/><path d="M4.900 10.600 L5.900 9.200 L6.600 9.800Z" fill="#5a4a3a"/></svg>
<span class="t" style="left:50.0px;top:121px;font-size:10.7px;color:#000;letter-spacing:0.029px;">LungDeaths</span>
<div style="position:absolute;left:40px;top:144px;width:10px;height:1px;background-image:repeating-linear-gradient(to right,#8a8a8a 0 1px,transparent 1px 2px);"></div>
<svg style="position:absolute;left:49.9px;top:136.9px;overflow:visible" width="14.4" height="14.4" viewBox="0 0 16 16"><rect x="1.5" y="1.5" width="10" height="11.5" rx="1.2" fill="#b9b6e2" stroke="#6f6bb0" stroke-width=".9"/><path d="M2.5 4.5h8M2.5 7.5h8M2.5 10.5h8" stroke="#8f8bc8" stroke-width=".7"/><circle cx="8" cy="7" r="3.6" fill="#c8ecfb" stroke="#5a7fb5" stroke-width="1"/><path d="M10.6 9.8 L14.3 13.6" stroke="#e58a1f" stroke-width="2.2" stroke-linecap="round"/></svg>
<span class="t" style="left:68.9px;top:137px;font-size:10.7px;color:#000;letter-spacing:0.407px;">Data</span>
<div style="position:absolute;left:40px;top:160px;width:10px;height:1px;background-image:repeating-linear-gradient(to right,#8a8a8a 0 1px,transparent 1px 2px);"></div>
<svg style="position:absolute;left:49.9px;top:152.9px;overflow:visible" width="14.4" height="14.4" viewBox="0 0 16 16"><path d="M1 8 Q1 4.5 4.5 4.5 L12 3.5 Q15 4 15 7.5 L15 11.5 L5 14.5 L1 13Z" fill="#b8b5e6" stroke="#6b68ad" stroke-width=".8"/><path d="M1 8 Q1.5 5 4.8 5 Q5.8 6.5 5.4 14.3 L1 13Z" fill="#d9d7f3" stroke="#6b68ad" stroke-width=".6"/><path d="M9.2 1 L11.6 .6 L11.2 6 L9 6.4Z" fill="#e3261c"/><path d="M6 3 L8.4 2.2 L8.8 6.2 L6.6 6.6Z" fill="#2a6fd0"/><path d="M7 2 L9 4.2" stroke="#f1c02a" stroke-width="1.1"/><path d="M5.4 8.6 L15 6.8" stroke="#8784c4" stroke-width=".8"/></svg>
<span class="t" style="left:68.9px;top:153px;font-size:10.7px;color:#000;letter-spacing:0.196px;">Settings</span>
<div style="position:absolute;left:40px;top:176px;width:10px;height:1px;background-image:repeating-linear-gradient(to right,#8a8a8a 0 1px,transparent 1px 2px);"></div>
<svg style="position:absolute;left:49.9px;top:168.9px;overflow:visible" width="14.4" height="14.4" viewBox="0 0 16 16"><path d="M8 .8V15.2M.8 9.5L15.2 6.5M2.5 4L13.5 12" stroke="#9a9aa2" stroke-width="1.5"/><path d="M8 .8V15.2M.8 9.5L15.2 6.5" stroke="#e3e3e8" stroke-width=".6"/><rect x="12.8" y="9.8" width="2.4" height="2.6" fill="#c8c8d0" stroke="#8a8a92" stroke-width=".5"/><rect x=".8" y="8.2" width="2.2" height="2.4" fill="#c8c8d0" stroke="#8a8a92" stroke-width=".5"/><circle cx="8" cy="8" r="2.7" fill="#1e7df0"/><circle cx="7.4" cy="7.3" r="1" fill="#7fc0ff"/></svg>
<span class="t" style="left:68.9px;top:169px;font-size:10.7px;color:#000;letter-spacing:0.107px;">Functions</span>
<div style="position:absolute;left:40px;top:192px;width:10px;height:1px;background-image:repeating-linear-gradient(to right,#8a8a8a 0 1px,transparent 1px 2px);"></div>
<svg style="position:absolute;left:49.9px;top:184.9px;overflow:visible" width="14.4" height="14.4" viewBox="0 0 16 16"><g transform="translate(7,6.5)"><rect x="-1.2" y="-6.0" width="2.4" height="2.8" fill="#d2d2e0" stroke="#8c8ca8" stroke-width=".5" transform="rotate(0)"/><rect x="-1.2" y="-6.0" width="2.4" height="2.8" fill="#d2d2e0" stroke="#8c8ca8" stroke-width=".5" transform="rotate(45)"/><rect x="-1.2" y="-6.0" width="2.4" height="2.8" fill="#d2d2e0" stroke="#8c8ca8" stroke-width=".5" transform="rotate(90)"/><rect x="-1.2" y="-6.0" width="2.4" height="2.8" fill="#d2d2e0" stroke="#8c8ca8" stroke-width=".5" transform="rotate(135)"/><rect x="-1.2" y="-6.0" width="2.4" height="2.8" fill="#d2d2e0" stroke="#8c8ca8" stroke-width=".5" transform="rotate(180)"/><rect x="-1.2" y="-6.0" width="2.4" height="2.8" fill="#d2d2e0" stroke="#8c8ca8" stroke-width=".5" transform="rotate(225)"/><rect x="-1.2" y="-6.0" width="2.4" height="2.8" fill="#d2d2e0" stroke="#8c8ca8" stroke-width=".5" transform="rotate(270)"/><rect x="-1.2" y="-6.0" width="2.4" height="2.8" fill="#d2d2e0" stroke="#8c8ca8" stroke-width=".5" transform="rotate(315)"/><circle r="4.7" fill="#d2d2e0" stroke="#8c8ca8" stroke-width=".6"/><circle r="1.786" fill="#fff" stroke="#8c8ca8" stroke-width=".5"/></g><circle cx="11" cy="11.2" r="4.3" fill="#22a52a" stroke="#117a18" stroke-width=".6"/><path d="M8.8 11.2 L10.4 12.9 L13.3 9.5" fill="none" stroke="#fff" stroke-width="1.5" stroke-linecap="round" stroke-linejoin="round"/></svg>
<span class="t" style="left:68.9px;top:185px;font-size:10.7px;color:#000;letter-spacing:0.095px;">Run</span>
<div style="position:absolute;left:40px;top:208px;width:10px;height:1px;background-image:repeating-linear-gradient(to right,#8a8a8a 0 1px,transparent 1px 2px);"></div>
<svg style="position:absolute;left:49.9px;top:200.9px;overflow:visible" width="14.4" height="14.4" viewBox="0 0 16 16"><path d="M5.200 2.200 Q8 .8 11.500 1.200 Q14.800 1 14.600 3.200 Q14.500 4.600 12.400 4.400 L11.600 4.300 L10.600 11 Q10.400 14 7.600 14.400 L3.400 14.800 Q1.200 14.400 1.400 12.600 Q1.800 11 4 11.200 Z" fill="#eeeef6" stroke="#9494b0" stroke-width=".8"/><path d="M5.200 2.200 L4 11.200" stroke="#b0b0c8" stroke-width=".6"/><path d="M1.600 12.400 Q3.600 11.600 6 12.800 Q7 13.600 6.600 14.500 L3.400 14.800 Q1.200 14.400 1.600 12.400Z" fill="#8c8ca6" stroke="#70708c" stroke-width=".5"/><circle cx="13.200" cy="2.800" r="1" fill="#fff" stroke="#8c8ca8" stroke-width=".6"/></svg>
<span class="t" style="left:68.9px;top:201px;font-size:10.7px;color:#000;letter-spacing:0.339px;">History</span>
<div style="position:absolute;left:40px;top:224px;width:10px;height:1px;background-image:repeating-linear-gradient(to right,#8a8a8a 0 1px,transparent 1px 2px);"></div>
<svg style="position:absolute;left:49.9px;top:216.9px;overflow:visible" width="14.4" height="14.4" viewBox="0 0 16 16"><rect x=".8" y=".8" width="14.400" height="14.400" fill="#f6f6fa" stroke="#8a8aa2" stroke-width="1.1"/><path d="M4.400 1v14M8 1v14M11.600 1v14M1 4.400h14M1 8h14M1 11.600h14" stroke="#cfcfdd" stroke-width=".7"/><path d="M1.500 13 L4.200 11 L6.500 6.500 L8.500 5 L10.500 7.800 L14.500 7.200" fill="none" stroke="#2d6fd8" stroke-width="1.2"/><path d="M1.500 8 L4 5.200 L6.200 4.600 L8.200 7 L10.800 5.200 L14.300 1.800" fill="none" stroke="#2fa52f" stroke-width="1.3"/></svg>
<span class="t" style="left:68.9px;top:217px;font-size:10.7px;color:#000;letter-spacing:0.022px;">Predictions</span>
<div style="position:absolute;left:40px;top:240px;width:10px;height:1px;background-image:repeating-linear-gradient(to right,#8a8a8a 0 1px,transparent 1px 2px);"></div>
<svg style="position:absolute;left:49.9px;top:232.9px;overflow:visible" width="14.4" height="14.4" viewBox="0 0 16 16"><rect x=".8" y=".8" width="14.400" height="14.400" rx="2.200" fill="#f2f7ff" stroke="#6e94d8" stroke-width="1.1"/><rect x="1.900" y="1.900" width="12.200" height="12.200" rx="1.300" fill="#fff"/><path d="M3 4.400H6.600M4.400 4.400V11.600H7.400M4.400 8H7.400" fill="none" stroke="#1f5fd0" stroke-width="1.400"/><path d="M7.800 4.400h3.400M8.800 8h3.800M8.800 11.600h3" stroke="#8a8a8a" stroke-width="1.700"/></svg>
<span class="t" style="left:68.9px;top:233px;font-size:10.7px;color:#000;letter-spacing:-0.052px;">Model</span>
<div style="position:absolute;left:25px;top:256px;width:6px;height:1px;background-image:repeating-linear-gradient(to right,#8a8a8a 0 1px,transparent 1px 2px);"></div>
<div style="position:absolute;left:15px;top:252px;width:9px;height:9px;background:#fff;border:1px solid #848484;"></div>
<div style="position:absolute;left:17px;top:256px;width:5px;height:1px;background:#000;"></div>
<div style="position:absolute;left:19px;top:254px;width:1px;height:5px;background:#000;"></div>
<svg style="position:absolute;left:30.3px;top:248.7px;overflow:visible" width="15" height="15" viewBox="0 0 16 16"><defs><linearGradient id="fg" x1="0" y1="0" x2="1" y2="1"><stop offset="0" stop-color="#fff68f"/><stop offset="1" stop-color="#f2c216"/></linearGradient></defs><path d="M9.500 3.600 L10.400 1.600 L13.600 1 L13.600 11.400 L9.500 13.400Z" fill="#e8b81c" stroke="#b8860b" stroke-width=".9"/><path d="M1.500 5.400 L9.500 3.600 L9.500 13.400 L1.500 15.200Z" fill="url(#fg)" stroke="#c08f0e" stroke-width="1"/></svg>
<span class="t" style="left:50.0px;top:249px;font-size:10.7px;color:#000;letter-spacing:0.080px;">SatelliteImages</span>
<div style="position:absolute;left:25px;top:272px;width:6px;height:1px;background-image:repeating-linear-gradient(to right,#8a8a8a 0 1px,transparent 1px 2px);"></div>
<div style="position:absolute;left:15px;top:268px;width:9px;height:9px;background:#fff;border:1px solid #848484;"></div>
<div style="position:absolute;left:17px;top:272px;width:5px;height:1px;background:#000;"></div>
<svg style="position:absolute;left:31px;top:265px;overflow:visible" width="15" height="14" viewBox="0 0 15 14"><defs><linearGradient id="fo" x1="0" y1="0" x2="1" y2="1"><stop offset="0" stop-color="#fff6a0"/><stop offset="1" stop-color="#f4c61c"/></linearGradient></defs><path d="M3.400 3.400 L5 2.300 H8 L9 3.400 H13.600 V10.400 H3.400Z" fill="#fffbe6" stroke="#c08a10" stroke-width=".9"/><path d="M.4 5.200 L3.700 5.900 L4.500 13.300 L1.300 9.800Z" fill="#e6b42a" stroke="#b8860b" stroke-width=".8"/><path d="M3.900 8.700 L13.800 6.500 L13.900 9.900 L4.500 13.400Z" fill="url(#fo)" stroke="#c08a10" stroke-width=".8"/><path d="M5.700 9.500 L11 2.500" stroke="#1f8f1f" stroke-width="2.800" stroke-linecap="butt"/><path d="M5.700 9.500 L11 2.500" stroke="#4fd24f" stroke-width="1.700"/><path d="M11 2.500 L11.700 1.600" stroke="#f2f2f2" stroke-width="2.400"/><circle cx="12.300" cy="1.500" r="1.700" fill="#e8341c"/><circle cx="11.900" cy="1.100" r=".6" fill="#ff8a70"/><path d="M4.900 10.600 L5.900 9.200 L6.600 9.800Z" fill="#5a4a3a"/></svg>
<span class="t" style="left:50.9px;top:265px;font-size:10.7px;color:#000;letter-spacing:0.556px;font-weight:bold;">LoanRisk</span>
<div style="position:absolute;left:40px;top:288px;width:10px;height:1px;background-image:repeating-linear-gradient(to right,#8a8a8a 0 1px,transparent 1px 2px);"></div>
<svg style="position:absolute;left:49.9px;top:280.9px;overflow:visible" width="14.4" height="14.4" viewBox="0 0 16 16"><rect x="1.5" y="1.5" width="10" height="11.5" rx="1.2" fill="#b9b6e2" stroke="#6f6bb0" stroke-width=".9"/><path d="M2.5 4.5h8M2.5 7.5h8M2.5 10.5h8" stroke="#8f8bc8" stroke-width=".7"/><circle cx="8" cy="7" r="3.6" fill="#c8ecfb" stroke="#5a7fb5" stroke-width="1"/><path d="M10.6 9.8 L14.3 13.6" stroke="#e58a1f" stroke-width="2.2" stroke-linecap="round"/></svg>
<span class="t" style="left:68.9px;top:281px;font-size:10.7px;color:#000;letter-spacing:0.407px;">Data</span>
<div style="position:absolute;left:40px;top:304px;width:10px;height:1px;background-image:repeating-linear-gradient(to right,#8a8a8a 0 1px,transparent 1px 2px);"></div>
<svg style="position:absolute;left:49.9px;top:296.9px;overflow:visible" width="14.4" height="14.4" viewBox="0 0 16 16"><path d="M1 8 Q1 4.5 4.5 4.5 L12 3.5 Q15 4 15 7.5 L15 11.5 L5 14.5 L1 13Z" fill="#b8b5e6" stroke="#6b68ad" stroke-width=".8"/><path d="M1 8 Q1.5 5 4.8 5 Q5.8 6.5 5.4 14.3 L1 13Z" fill="#d9d7f3" stroke="#6b68ad" stroke-width=".6"/><path d="M9.2 1 L11.6 .6 L11.2 6 L9 6.4Z" fill="#e3261c"/><path d="M6 3 L8.4 2.2 L8.8 6.2 L6.6 6.6Z" fill="#2a6fd0"/><path d="M7 2 L9 4.2" stroke="#f1c02a" stroke-width="1.1"/><path d="M5.4 8.6 L15 6.8" stroke="#8784c4" stroke-width=".8"/></svg>
<span class="t" style="left:68.9px;top:297px;font-size:10.7px;color:#000;letter-spacing:0.196px;">Settings</span>
<div style="position:absolute;left:40px;top:320px;width:10px;height:1px;background-image:repeating-linear-gradient(to right,#8a8a8a 0 1px,transparent 1px 2px);"></div>
<svg style="position:absolute;left:49.9px;top:312.9px;overflow:visible" width="14.4" height="14.4" viewBox="0 0 16 16"><path d="M8 .8V15.2M.8 9.5L15.2 6.5M2.5 4L13.5 12" stroke="#9a9aa2" stroke-width="1.5"/><path d="M8 .8V15.2M.8 9.5L15.2 6.5" stroke="#e3e3e8" stroke-width=".6"/><rect x="12.8" y="9.8" width="2.4" height="2.6" fill="#c8c8d0" stroke="#8a8a92" stroke-width=".5"/><rect x=".8" y="8.2" width="2.2" height="2.4" fill="#c8c8d0" stroke="#8a8a92" stroke-width=".5"/><circle cx="8" cy="8" r="2.7" fill="#1e7df0"/><circle cx="7.4" cy="7.3" r="1" fill="#7fc0ff"/></svg>
<span class="t" style="left:68.9px;top:313px;font-size:10.7px;color:#000;letter-spacing:0.107px;">Functions</span>
<div style="position:absolute;left:40px;top:336px;width:10px;height:1px;background-image:repeating-linear-gradient(to right,#8a8a8a 0 1px,transparent 1px 2px);"></div>
<svg style="position:absolute;left:49.9px;top:328.9px;overflow:visible" width="14.4" height="14.4" viewBox="0 0 16 16"><g transform="translate(7,6.5)"><rect x="-1.2" y="-6.0" width="2.4" height="2.8" fill="#d2d2e0" stroke="#8c8ca8" stroke-width=".5" transform="rotate(0)"/><rect x="-1.2" y="-6.0" width="2.4" height="2.8" fill="#d2d2e0" stroke="#8c8ca8" stroke-width=".5" transform="rotate(45)"/><rect x="-1.2" y="-6.0" width="2.4" height="2.8" fill="#d2d2e0" stroke="#8c8ca8" stroke-width=".5" transform="rotate(90)"/><rect x="-1.2" y="-6.0" width="2.4" height="2.8" fill="#d2d2e0" stroke="#8c8ca8" stroke-width=".5" transform="rotate(135)"/><rect x="-1.2" y="-6.0" width="2.4" height="2.8" fill="#d2d2e0" stroke="#8c8ca8" stroke-width=".5" transform="rotate(180)"/><rect x="-1.2" y="-6.0" width="2.4" height="2.8" fill="#d2d2e0" stroke="#8c8ca8" stroke-width=".5" transform="rotate(225)"/><rect x="-1.2" y="-6.0" width="2.4" height="2.8" fill="#d2d2e0" stroke="#8c8ca8" stroke-width=".5" transform="rotate(270)"/><rect x="-1.2" y="-6.0" width="2.4" height="2.8" fill="#d2d2e0" stroke="#8c8ca8" stroke-width=".5" transform="rotate(315)"/><circle r="4.7" fill="#d2d2e0" stroke="#8c8ca8" stroke-width=".6"/><circle r="1.786" fill="#fff" stroke="#8c8ca8" stroke-width=".5"/></g><circle cx="11" cy="11.2" r="4.3" fill="#22a52a" stroke="#117a18" stroke-width=".6"/><path d="M8.8 11.2 L10.4 12.9 L13.3 9.5" fill="none" stroke="#fff" stroke-width="1.5" stroke-linecap="round" stroke-linejoin="round"/></svg>
<span class="t" style="left:68.9px;top:329px;font-size:10.7px;color:#000;letter-spacing:0.095px;">Run</span>
<div style="position:absolute;left:40px;top:352px;width:10px;height:1px;background-image:repeating-linear-gradient(to right,#8a8a8a 0 1px,transparent 1px 2px);"></div>
<svg style="position:absolute;left:49.9px;top:344.9px;overflow:visible" width="14.4" height="14.4" viewBox="0 0 16 16"><path d="M5.200 2.200 Q8 .8 11.500 1.200 Q14.800 1 14.600 3.200 Q14.500 4.600 12.400 4.400 L11.600 4.300 L10.600 11 Q10.400 14 7.600 14.400 L3.400 14.800 Q1.200 14.400 1.400 12.600 Q1.800 11 4 11.200 Z" fill="#eeeef6" stroke="#9494b0" stroke-width=".8"/><path d="M5.200 2.200 L4 11.200" stroke="#b0b0c8" stroke-width=".6"/><path d="M1.600 12.400 Q3.600 11.600 6 12.800 Q7 13.600 6.600 14.500 L3.400 14.800 Q1.200 14.400 1.600 12.400Z" fill="#8c8ca6" stroke="#70708c" stroke-width=".5"/><circle cx="13.200" cy="2.800" r="1" fill="#fff" stroke="#8c8ca8" stroke-width=".6"/></svg>
<span class="t" style="left:68.9px;top:345px;font-size:10.7px;color:#000;letter-spacing:0.339px;">History</span>
<div style="position:absolute;left:40px;top:368px;width:10px;height:1px;background-image:repeating-linear-gradient(to right,#8a8a8a 0 1px,transparent 1px 2px);"></div>
<div style="position:absolute;left:67px;top:360px;width:39px;height:15px;background:#f0f0f0;"></div>
<svg style="position:absolute;left:49.9px;top:360.9px;overflow:visible" width="14.4" height="14.4" viewBox="0 0 16 16"><rect x=".8" y=".8" width="14.400" height="14.400" fill="#f6f6fa" stroke="#8a8aa2" stroke-width="1.1"/><path d="M4.400 1v14M8 1v14M11.600 1v14M1 4.400h14M1 8h14M1 11.600h14" stroke="#cfcfdd" stroke-width=".7"/><path d="M1.500 13 L4.200 11 L6.500 6.500 L8.500 5 L10.500 7.800 L14.500 7.200" fill="none" stroke="#2d6fd8" stroke-width="1.2"/><path d="M1.500 8 L4 5.200 L6.200 4.600 L8.200 7 L10.800 5.200 L14.300 1.800" fill="none" stroke="#2fa52f" stroke-width="1.3"/></svg>
<span class="t" style="left:68.9px;top:361px;font-size:10.7px;color:#000;letter-spacing:0.077px;">Results</span>
<div style="position:absolute;left:40px;top:384px;width:10px;height:1px;background-image:repeating-linear-gradient(to right,#8a8a8a 0 1px,transparent 1px 2px);"></div>
<svg style="position:absolute;left:49.9px;top:376.9px;overflow:visible" width="14.4" height="14.4" viewBox="0 0 16 16"><rect x=".8" y=".8" width="14.400" height="14.400" rx="2.200" fill="#f2f7ff" stroke="#6e94d8" stroke-width="1.1"/><rect x="1.900" y="1.900" width="12.200" height="12.200" rx="1.300" fill="#fff"/><path d="M3 4.400H6.600M4.400 4.400V11.600H7.400M4.400 8H7.400" fill="none" stroke="#1f5fd0" stroke-width="1.400"/><path d="M7.800 4.400h3.400M8.800 8h3.800M8.800 11.600h3" stroke="#8a8a8a" stroke-width="1.700"/></svg>
<span class="t" style="left:68.9px;top:377px;font-size:10.7px;color:#000;letter-spacing:-0.052px;">Model</span>
<div style="position:absolute;left:40px;top:400px;width:10px;height:1px;background-image:repeating-linear-gradient(to right,#8a8a8a 0 1px,transparent 1px 2px);"></div>
<svg style="position:absolute;left:49.9px;top:392.9px;overflow:visible" width="14.4" height="14.4" viewBox="0 0 16 16"><defs><linearGradient id="cg" x1="0" y1="0" x2="1" y2="1"><stop offset="0" stop-color="#7fb4f6"/><stop offset="1" stop-color="#2f72d8"/></linearGradient></defs><rect x="1.800" y=".8" width="12.400" height="14.400" fill="url(#cg)" stroke="#3a78d8" stroke-width=".9"/><rect x="3.200" y="2" width="9.600" height="3" fill="#bfeaa6" stroke="#6fb06a" stroke-width=".4"/><rect x="3.200" y="6.600" width="2.400" height="1.600" fill="#e0392b"/><rect x="3.2" y="9.3" width="1.800" height="1.600" fill="#f3f7ff"/><rect x="3.2" y="12.0" width="1.800" height="1.600" fill="#f3f7ff"/><rect x="5.800000000000001" y="6.6" width="1.800" height="1.600" fill="#f3f7ff"/><rect x="5.800000000000001" y="9.3" width="1.800" height="1.600" fill="#f3f7ff"/><rect x="5.800000000000001" y="12.0" width="1.800" height="1.600" fill="#f3f7ff"/><rect x="8.4" y="6.6" width="1.800" height="1.600" fill="#f3f7ff"/><rect x="8.4" y="9.3" width="1.800" height="1.600" fill="#f3f7ff"/><rect x="8.4" y="12.0" width="1.800" height="1.600" fill="#f3f7ff"/><rect x="11.0" y="6.6" width="1.800" height="1.600" fill="#f3f7ff"/><rect x="11.0" y="9.3" width="1.800" height="1.600" fill="#f3f7ff"/><rect x="11.0" y="12.0" width="1.800" height="1.600" fill="#f3f7ff"/></svg>
<span class="t" style="left:68.9px;top:393px;font-size:10.7px;color:#000;letter-spacing:-0.025px;">Scoring</span>
<div style="position:absolute;left:25px;top:416px;width:6px;height:1px;background-image:repeating-linear-gradient(to right,#8a8a8a 0 1px,transparent 1px 2px);"></div>
<div style="position:absolute;left:15px;top:412px;width:9px;height:9px;background:#fff;border:1px solid #848484;"></div>
<div style="position:absolute;left:17px;top:416px;width:5px;height:1px;background:#000;"></div>
<svg style="position:absolute;left:31px;top:409px;overflow:visible" width="15" height="14" viewBox="0 0 15 14"><defs><linearGradient id="fo" x1="0" y1="0" x2="1" y2="1"><stop offset="0" stop-color="#fff6a0"/><stop offset="1" stop-color="#f4c61c"/></linearGradient></defs><path d="M3.400 3.400 L5 2.300 H8 L9 3.400 H13.600 V10.400 H3.400Z" fill="#fffbe6" stroke="#c08a10" stroke-width=".9"/><path d="M.4 5.200 L3.700 5.900 L4.500 13.300 L1.300 9.800Z" fill="#e6b42a" stroke="#b8860b" stroke-width=".8"/><path d="M3.900 8.700 L13.800 6.500 L13.900 9.900 L4.500 13.400Z" fill="url(#fo)" stroke="#c08a10" stroke-width=".8"/><path d="M5.700 9.500 L11 2.500" stroke="#1f8f1f" stroke-width="2.800" stroke-linecap="butt"/><path d="M5.700 9.500 L11 2.500" stroke="#4fd24f" stroke-width="1.700"/><path d="M11 2.500 L11.700 1.600" stroke="#f2f2f2" stroke-width="2.400"/><circle cx="12.300" cy="1.500" r="1.700" fill="#e8341c"/><circle cx="11.900" cy="1.100" r=".6" fill="#ff8a70"/><path d="M4.900 10.600 L5.900 9.200 L6.600 9.800Z" fill="#5a4a3a"/></svg>
<span class="t" style="left:50.0px;top:409px;font-size:10.7px;color:#000;letter-spacing:0.102px;">Diabetes</span>
<div style="position:absolute;left:40px;top:432px;width:10px;height:1px;background-image:repeating-linear-gradient(to right,#8a8a8a 0 1px,transparent 1px 2px);"></div>
<svg style="position:absolute;left:49.9px;top:424.9px;overflow:visible" width="14.4" height="14.4" viewBox="0 0 16 16"><rect x="1.5" y="1.5" width="10" height="11.5" rx="1.2" fill="#b9b6e2" stroke="#6f6bb0" stroke-width=".9"/><path d="M2.5 4.5h8M2.5 7.5h8M2.5 10.5h8" stroke="#8f8bc8" stroke-width=".7"/><circle cx="8" cy="7" r="3.6" fill="#c8ecfb" stroke="#5a7fb5" stroke-width="1"/><path d="M10.6 9.8 L14.3 13.6" stroke="#e58a1f" stroke-width="2.2" stroke-linecap="round"/></svg>
<span class="t" style="left:68.9px;top:425px;font-size:10.7px;color:#000;letter-spacing:0.407px;">Data</span>
<div style="position:absolute;left:40px;top:448px;width:10px;height:1px;background-image:repeating-linear-gradient(to right,#8a8a8a 0 1px,transparent 1px 2px);"></div>
<svg style="position:absolute;left:49.9px;top:440.9px;overflow:visible" width="14.4" height="14.4" viewBox="0 0 16 16"><path d="M1 8 Q1 4.5 4.5 4.5 L12 3.5 Q15 4 15 7.5 L15 11.5 L5 14.5 L1 13Z" fill="#b8b5e6" stroke="#6b68ad" stroke-width=".8"/><path d="M1 8 Q1.5 5 4.8 5 Q5.8 6.5 5.4 14.3 L1 13Z" fill="#d9d7f3" stroke="#6b68ad" stroke-width=".6"/><path d="M9.2 1 L11.6 .6 L11.2 6 L9 6.4Z" fill="#e3261c"/><path d="M6 3 L8.4 2.2 L8.8 6.2 L6.6 6.6Z" fill="#2a6fd0"/><path d="M7 2 L9 4.2" stroke="#f1c02a" stroke-width="1.1"/><path d="M5.4 8.6 L15 6.8" stroke="#8784c4" stroke-width=".8"/></svg>
<span class="t" style="left:68.9px;top:441px;font-size:10.7px;color:#000;letter-spacing:0.196px;">Settings</span>
<div style="position:absolute;left:40px;top:464px;width:10px;height:1px;background-image:repeating-linear-gradient(to right,#8a8a8a 0 1px,transparent 1px 2px);"></div>
<svg style="position:absolute;left:49.9px;top:456.9px;overflow:visible" width="14.4" height="14.4" viewBox="0 0 16 16"><path d="M8 .8V15.2M.8 9.5L15.2 6.5M2.5 4L13.5 12" stroke="#9a9aa2" stroke-width="1.5"/><path d="M8 .8V15.2M.8 9.5L15.2 6.5" stroke="#e3e3e8" stroke-width=".6"/><rect x="12.8" y="9.8" width="2.4" height="2.6" fill="#c8c8d0" stroke="#8a8a92" stroke-width=".5"/><rect x=".8" y="8.2" width="2.2" height="2.4" fill="#c8c8d0" stroke="#8a8a92" stroke-width=".5"/><circle cx="8" cy="8" r="2.7" fill="#1e7df0"/><circle cx="7.4" cy="7.3" r="1" fill="#7fc0ff"/></svg>
<span class="t" style="left:68.9px;top:457px;font-size:10.7px;color:#000;letter-spacing:0.107px;">Functions</span>
<div style="position:absolute;left:40px;top:480px;width:10px;height:1px;background-image:repeating-linear-gradient(to right,#8a8a8a 0 1px,transparent 1px 2px);"></div>
<svg style="position:absolute;left:49.9px;top:472.9px;overflow:visible" width="14.4" height="14.4" viewBox="0 0 16 16"><g transform="translate(7,6.5)"><rect x="-1.2" y="-6.0" width="2.4" height="2.8" fill="#d2d2e0" stroke="#8c8ca8" stroke-width=".5" transform="rotate(0)"/><rect x="-1.2" y="-6.0" width="2.4" height="2.8" fill="#d2d2e0" stroke="#8c8ca8" stroke-width=".5" transform="rotate(45)"/><rect x="-1.2" y="-6.0" width="2.4" height="2.8" fill="#d2d2e0" stroke="#8c8ca8" stroke-width=".5" transform="rotate(90)"/><rect x="-1.2" y="-6.0" width="2.4" height="2.8" fill="#d2d2e0" stroke="#8c8ca8" stroke-width=".5" transform="rotate(135)"/><rect x="-1.2" y="-6.0" width="2.4" height="2.8" fill="#d2d2e0" stroke="#8c8ca8" stroke-width=".5" transform="rotate(180)"/><rect x="-1.2" y="-6.0" width="2.4" height="2.8" fill="#d2d2e0" stroke="#8c8ca8" stroke-width=".5" transform="rotate(225)"/><rect x="-1.2" y="-6.0" width="2.4" height="2.8" fill="#d2d2e0" stroke="#8c8ca8" stroke-width=".5" transform="rotate(270)"/><rect x="-1.2" y="-6.0" width="2.4" height="2.8" fill="#d2d2e0" stroke="#8c8ca8" stroke-width=".5" transform="rotate(315)"/><circle r="4.7" fill="#d2d2e0" stroke="#8c8ca8" stroke-width=".6"/><circle r="1.786" fill="#fff" stroke="#8c8ca8" stroke-width=".5"/></g><circle cx="11" cy="11.2" r="4.3" fill="#22a52a" stroke="#117a18" stroke-width=".6"/><path d="M8.8 11.2 L10.4 12.9 L13.3 9.5" fill="none" stroke="#fff" stroke-width="1.5" stroke-linecap="round" stroke-linejoin="round"/></svg>
<span class="t" style="left:68.9px;top:473px;font-size:10.7px;color:#000;letter-spacing:0.095px;">Run</span>
<div style="position:absolute;left:40px;top:496px;width:10px;height:1px;background-image:repeating-linear-gradient(to right,#8a8a8a 0 1px,transparent 1px 2px);"></div>
<svg style="position:absolute;left:49.9px;top:488.9px;overflow:visible" width="14.4" height="14.4" viewBox="0 0 16 16"><path d="M5.200 2.200 Q8 .8 11.500 1.200 Q14.800 1 14.600 3.200 Q14.500 4.600 12.400 4.400 L11.600 4.300 L10.600 11 Q10.400 14 7.600 14.400 L3.400 14.800 Q1.200 14.400 1.400 12.600 Q1.800 11 4 11.200 Z" fill="#eeeef6" stroke="#9494b0" stroke-width=".8"/><path d="M5.200 2.200 L4 11.200" stroke="#b0b0c8" stroke-width=".6"/><path d="M1.600 12.400 Q3.600 11.600 6 12.800 Q7 13.600 6.600 14.500 L3.400 14.800 Q1.200 14.400 1.600 12.400Z" fill="#8c8ca6" stroke="#70708c" stroke-width=".5"/><circle cx="13.200" cy="2.800" r="1" fill="#fff" stroke="#8c8ca8" stroke-width=".6"/></svg>
<span class="t" style="left:68.9px;top:489px;font-size:10.7px;color:#000;letter-spacing:0.339px;">History</span>
<div style="position:absolute;left:40px;top:512px;width:10px;height:1px;background-image:repeating-linear-gradient(to right,#8a8a8a 0 1px,transparent 1px 2px);"></div>
<svg style="position:absolute;left:49.9px;top:504.9px;overflow:visible" width="14.4" height="14.4" viewBox="0 0 16 16"><rect x=".8" y=".8" width="14.400" height="14.400" fill="#f6f6fa" stroke="#8a8aa2" stroke-width="1.1"/><path d="M4.400 1v14M8 1v14M11.600 1v14M1 4.400h14M1 8h14M1 11.600h14" stroke="#cfcfdd" stroke-width=".7"/><path d="M1.500 13 L4.200 11 L6.500 6.500 L8.500 5 L10.500 7.800 L14.500 7.200" fill="none" stroke="#2d6fd8" stroke-width="1.2"/><path d="M1.500 8 L4 5.200 L6.200 4.600 L8.200 7 L10.800 5.200 L14.300 1.800" fill="none" stroke="#2fa52f" stroke-width="1.3"/></svg>
<span class="t" style="left:68.9px;top:505px;font-size:10.7px;color:#000;letter-spacing:0.077px;">Results</span>
<div style="position:absolute;left:40px;top:528px;width:10px;height:1px;background-image:repeating-linear-gradient(to right,#8a8a8a 0 1px,transparent 1px 2px);"></div>
<svg style="position:absolute;left:49.9px;top:520.9px;overflow:visible" width="14.4" height="14.4" viewBox="0 0 16 16"><rect x=".8" y=".8" width="14.400" height="14.400" rx="2.200" fill="#f2f7ff" stroke="#6e94d8" stroke-width="1.1"/><rect x="1.900" y="1.900" width="12.200" height="12.200" rx="1.300" fill="#fff"/><path d="M3 4.400H6.600M4.400 4.400V11.600H7.400M4.400 8H7.400" fill="none" stroke="#1f5fd0" stroke-width="1.400"/><path d="M7.800 4.400h3.400M8.800 8h3.800M8.800 11.600h3" stroke="#8a8a8a" stroke-width="1.700"/></svg>
<span class="t" style="left:68.9px;top:521px;font-size:10.7px;color:#000;letter-spacing:-0.052px;">Model</span>
<div style="position:absolute;left:40px;top:544px;width:10px;height:1px;background-image:repeating-linear-gradient(to right,#8a8a8a 0 1px,transparent 1px 2px);"></div>
<svg style="position:absolute;left:49.9px;top:536.9px;overflow:visible" width="14.4" height="14.4" viewBox="0 0 16 16"><defs><linearGradient id="cg" x1="0" y1="0" x2="1" y2="1"><stop offset="0" stop-color="#7fb4f6"/><stop offset="1" stop-color="#2f72d8"/></linearGradient></defs><rect x="1.800" y=".8" width="12.400" height="14.400" fill="url(#cg)" stroke="#3a78d8" stroke-width=".9"/><rect x="3.200" y="2" width="9.600" height="3" fill="#bfeaa6" stroke="#6fb06a" stroke-width=".4"/><rect x="3.200" y="6.600" width="2.400" height="1.600" fill="#e0392b"/><rect x="3.2" y="9.3" width="1.800" height="1.600" fill="#f3f7ff"/><rect x="3.2" y="12.0" width="1.800" height="1.600" fill="#f3f7ff"/><rect x="5.800000000000001" y="6.6" width="1.800" height="1.600" fill="#f3f7ff"/><rect x="5.800000000000001" y="9.3" width="1.800" height="1.600" fill="#f3f7ff"/><rect x="5.800000000000001" y="12.0" width="1.800" height="1.600" fill="#f3f7ff"/><rect x="8.4" y="6.6" width="1.800" height="1.600" fill="#f3f7ff"/><rect x="8.4" y="9.3" width="1.800" height="1.600" fill="#f3f7ff"/><rect x="8.4" y="12.0" width="1.800" height="1.600" fill="#f3f7ff"/><rect x="11.0" y="6.6" width="1.800" height="1.600" fill="#f3f7ff"/><rect x="11.0" y="9.3" width="1.800" height="1.600" fill="#f3f7ff"/><rect x="11.0" y="12.0" width="1.800" height="1.600" fill="#f3f7ff"/></svg>
<span class="t" style="left:68.9px;top:537px;font-size:10.7px;color:#000;letter-spacing:-0.025px;">Scoring</span>
<div style="position:absolute;left:25px;top:560px;width:6px;height:1px;background-image:repeating-linear-gradient(to right,#8a8a8a 0 1px,transparent 1px 2px);"></div>
<div style="position:absolute;left:15px;top:556px;width:9px;height:9px;background:#fff;border:1px solid #848484;"></div>
<div style="position:absolute;left:17px;top:560px;width:5px;height:1px;background:#000;"></div>
<svg style="position:absolute;left:31px;top:553px;overflow:visible" width="15" height="14" viewBox="0 0 15 14"><defs><linearGradient id="fo" x1="0" y1="0" x2="1" y2="1"><stop offset="0" stop-color="#fff6a0"/><stop offset="1" stop-color="#f4c61c"/></linearGradient></defs><path d="M3.400 3.400 L5 2.300 H8 L9 3.400 H13.600 V10.400 H3.400Z" fill="#fffbe6" stroke="#c08a10" stroke-width=".9"/><path d="M.4 5.200 L3.700 5.900 L4.500 13.300 L1.300 9.800Z" fill="#e6b42a" stroke="#b8860b" stroke-width=".8"/><path d="M3.900 8.700 L13.800 6.500 L13.900 9.900 L4.500 13.400Z" fill="url(#fo)" stroke="#c08a10" stroke-width=".8"/><path d="M5.700 9.500 L11 2.500" stroke="#1f8f1f" stroke-width="2.800" stroke-linecap="butt"/><path d="M5.700 9.500 L11 2.500" stroke="#4fd24f" stroke-width="1.700"/><path d="M11 2.500 L11.700 1.600" stroke="#f2f2f2" stroke-width="2.400"/><circle cx="12.300" cy="1.500" r="1.700" fill="#e8341c"/><circle cx="11.900" cy="1.100" r=".6" fill="#ff8a70"/><path d="M4.900 10.600 L5.900 9.200 L6.600 9.800Z" fill="#5a4a3a"/></svg>
<span class="t" style="left:50.0px;top:553px;font-size:10.7px;color:#000;letter-spacing:-0.277px;">Emotiv-EEG</span>
<div style="position:absolute;left:40px;top:576px;width:10px;height:1px;background-image:repeating-linear-gradient(to right,#8a8a8a 0 1px,transparent 1px 2px);"></div>
<svg style="position:absolute;left:49.9px;top:568.9px;overflow:visible" width="14.4" height="14.4" viewBox="0 0 16 16"><rect x="1.5" y="1.5" width="10" height="11.5" rx="1.2" fill="#b9b6e2" stroke="#6f6bb0" stroke-width=".9"/><path d="M2.5 4.5h8M2.5 7.5h8M2.5 10.5h8" stroke="#8f8bc8" stroke-width=".7"/><circle cx="8" cy="7" r="3.6" fill="#c8ecfb" stroke="#5a7fb5" stroke-width="1"/><path d="M10.6 9.8 L14.3 13.6" stroke="#e58a1f" stroke-width="2.2" stroke-linecap="round"/></svg>
<span class="t" style="left:68.9px;top:569px;font-size:10.7px;color:#000;letter-spacing:0.407px;">Data</span>
<div style="position:absolute;left:40px;top:592px;width:10px;height:1px;background-image:repeating-linear-gradient(to right,#8a8a8a 0 1px,transparent 1px 2px);"></div>
<svg style="position:absolute;left:49.9px;top:584.9px;overflow:visible" width="14.4" height="14.4" viewBox="0 0 16 16"><path d="M1 8 Q1 4.5 4.5 4.5 L12 3.5 Q15 4 15 7.5 L15 11.5 L5 14.5 L1 13Z" fill="#b8b5e6" stroke="#6b68ad" stroke-width=".8"/><path d="M1 8 Q1.5 5 4.8 5 Q5.8 6.5 5.4 14.3 L1 13Z" fill="#d9d7f3" stroke="#6b68ad" stroke-width=".6"/><path d="M9.2 1 L11.6 .6 L11.2 6 L9 6.4Z" fill="#e3261c"/><path d="M6 3 L8.4 2.2 L8.8 6.2 L6.6 6.6Z" fill="#2a6fd0"/><path d="M7 2 L9 4.2" stroke="#f1c02a" stroke-width="1.1"/><path d="M5.4 8.6 L15 6.8" stroke="#8784c4" stroke-width=".8"/></svg>
<span class="t" style="left:68.9px;top:585px;font-size:10.7px;color:#000;letter-spacing:0.196px;">Settings</span>
<div style="position:absolute;left:40px;top:608px;width:10px;height:1px;background-image:repeating-linear-gradient(to right,#8a8a8a 0 1px,transparent 1px 2px);"></div>
<svg style="position:absolute;left:49.9px;top:600.9px;overflow:visible" width="14.4" height="14.4" viewBox="0 0 16 16"><path d="M8 .8V15.2M.8 9.5L15.2 6.5M2.5 4L13.5 12" stroke="#9a9aa2" stroke-width="1.5"/><path d="M8 .8V15.2M.8 9.5L15.2 6.5" stroke="#e3e3e8" stroke-width=".6"/><rect x="12.8" y="9.8" width="2.4" height="2.6" fill="#c8c8d0" stroke="#8a8a92" stroke-width=".5"/><rect x=".8" y="8.2" width="2.2" height="2.4" fill="#c8c8d0" stroke="#8a8a92" stroke-width=".5"/><circle cx="8" cy="8" r="2.7" fill="#1e7df0"/><circle cx="7.4" cy="7.3" r="1" fill="#7fc0ff"/></svg>
<span class="t" style="left:68.9px;top:601px;font-size:10.7px;color:#000;letter-spacing:0.107px;">Functions</span>
<div style="position:absolute;left:40px;top:624px;width:10px;height:1px;background-image:repeating-linear-gradient(to right,#8a8a8a 0 1px,transparent 1px 2px);"></div>
<svg style="position:absolute;left:49.9px;top:616.9px;overflow:visible" width="14.4" height="14.4" viewBox="0 0 16 16"><g transform="translate(7,6.5)"><rect x="-1.2" y="-6.0" width="2.4" height="2.8" fill="#d2d2e0" stroke="#8c8ca8" stroke-width=".5" transform="rotate(0)"/><rect x="-1.2" y="-6.0" width="2.4" height="2.8" fill="#d2d2e0" stroke="#8c8ca8" stroke-width=".5" transform="rotate(45)"/><rect x="-1.2" y="-6.0" width="2.4" height="2.8" fill="#d2d2e0" stroke="#8c8ca8" stroke-width=".5" transform="rotate(90)"/><rect x="-1.2" y="-6.0" width="2.4" height="2.8" fill="#d2d2e0" stroke="#8c8ca8" stroke-width=".5" transform="rotate(135)"/><rect x="-1.2" y="-6.0" width="2.4" height="2.8" fill="#d2d2e0" stroke="#8c8ca8" stroke-width=".5" transform="rotate(180)"/><rect x="-1.2" y="-6.0" width="2.4" height="2.8" fill="#d2d2e0" stroke="#8c8ca8" stroke-width=".5" transform="rotate(225)"/><rect x="-1.2" y="-6.0" width="2.4" height="2.8" fill="#d2d2e0" stroke="#8c8ca8" stroke-width=".5" transform="rotate(270)"/><rect x="-1.2" y="-6.0" width="2.4" height="2.8" fill="#d2d2e0" stroke="#8c8ca8" stroke-width=".5" transform="rotate(315)"/><circle r="4.7" fill="#d2d2e0" stroke="#8c8ca8" stroke-width=".6"/><circle r="1.786" fill="#fff" stroke="#8c8ca8" stroke-width=".5"/></g><circle cx="11" cy="11.2" r="4.3" fill="#22a52a" stroke="#117a18" stroke-width=".6"/><path d="M8.8 11.2 L10.4 12.9 L13.3 9.5" fill="none" stroke="#fff" stroke-width="1.5" stroke-linecap="round" stroke-linejoin="round"/></svg>
<span class="t" style="left:68.9px;top:617px;font-size:10.7px;color:#000;letter-spacing:0.095px;">Run</span>
<div style="position:absolute;left:40px;top:640px;width:10px;height:1px;background-image:repeating-linear-gradient(to right,#8a8a8a 0 1px,transparent 1px 2px);"></div>
<svg style="position:absolute;left:49.9px;top:632.9px;overflow:visible" width="14.4" height="14.4" viewBox="0 0 16 16"><path d="M5.200 2.200 Q8 .8 11.500 1.200 Q14.800 1 14.600 3.200 Q14.500 4.600 12.400 4.400 L11.600 4.300 L10.600 11 Q10.400 14 7.600 14.400 L3.400 14.800 Q1.200 14.400 1.400 12.600 Q1.800 11 4 11.200 Z" fill="#eeeef6" stroke="#9494b0" stroke-width=".8"/><path d="M5.200 2.200 L4 11.200" stroke="#b0b0c8" stroke-width=".6"/><path d="M1.600 12.400 Q3.600 11.600 6 12.800 Q7 13.600 6.600 14.500 L3.400 14.800 Q1.200 14.400 1.600 12.400Z" fill="#8c8ca6" stroke="#70708c" stroke-width=".5"/><circle cx="13.200" cy="2.800" r="1" fill="#fff" stroke="#8c8ca8" stroke-width=".6"/></svg>
<span class="t" style="left:68.9px;top:633px;font-size:10.7px;color:#000;letter-spacing:0.339px;">History</span>
<div style="position:absolute;left:40px;top:656px;width:10px;height:1px;background-image:repeating-linear-gradient(to right,#8a8a8a 0 1px,transparent 1px 2px);"></div>
<svg style="position:absolute;left:49.9px;top:648.9px;overflow:visible" width="14.4" height="14.4" viewBox="0 0 16 16"><rect x=".8" y=".8" width="14.400" height="14.400" fill="#f6f6fa" stroke="#8a8aa2" stroke-width="1.1"/><path d="M4.400 1v14M8 1v14M11.600 1v14M1 4.400h14M1 8h14M1 11.600h14" stroke="#cfcfdd" stroke-width=".7"/><path d="M1.500 13 L4.200 11 L6.500 6.500 L8.500 5 L10.500 7.800 L14.500 7.200" fill="none" stroke="#2d6fd8" stroke-width="1.2"/><path d="M1.500 8 L4 5.200 L6.200 4.600 L8.200 7 L10.800 5.200 L14.300 1.800" fill="none" stroke="#2fa52f" stroke-width="1.3"/></svg>
<span class="t" style="left:68.9px;top:649px;font-size:10.7px;color:#000;letter-spacing:0.077px;">Results</span>
<div style="position:absolute;left:40px;top:672px;width:10px;height:1px;background-image:repeating-linear-gradient(to right,#8a8a8a 0 1px,transparent 1px 2px);"></div>
<svg style="position:absolute;left:49.9px;top:664.9px;overflow:visible" width="14.4" height="14.4" viewBox="0 0 16 16"><rect x=".8" y=".8" width="14.400" height="14.400" rx="2.200" fill="#f2f7ff" stroke="#6e94d8" stroke-width="1.1"/><rect x="1.900" y="1.900" width="12.200" height="12.200" rx="1.300" fill="#fff"/><path d="M3 4.400H6.600M4.400 4.400V11.600H7.400M4.400 8H7.400" fill="none" stroke="#1f5fd0" stroke-width="1.400"/><path d="M7.800 4.400h3.400M8.800 8h3.800M8.800 11.600h3" stroke="#8a8a8a" stroke-width="1.700"/></svg>
<span class="t" style="left:68.9px;top:665px;font-size:10.7px;color:#000;letter-spacing:-0.052px;">Model</span>
<div style="position:absolute;left:40px;top:688px;width:10px;height:1px;background-image:repeating-linear-gradient(to right,#8a8a8a 0 1px,transparent 1px 2px);"></div>
<svg style="position:absolute;left:49.9px;top:680.9px;overflow:visible" width="14.4" height="14.4" viewBox="0 0 16 16"><defs><linearGradient id="cg" x1="0" y1="0" x2="1" y2="1"><stop offset="0" stop-color="#7fb4f6"/><stop offset="1" stop-color="#2f72d8"/></linearGradient></defs><rect x="1.800" y=".8" width="12.400" height="14.400" fill="url(#cg)" stroke="#3a78d8" stroke-width=".9"/><rect x="3.200" y="2" width="9.600" height="3" fill="#bfeaa6" stroke="#6fb06a" stroke-width=".4"/><rect x="3.200" y="6.600" width="2.400" height="1.600" fill="#e0392b"/><rect x="3.2" y="9.3" width="1.800" height="1.600" fill="#f3f7ff"/><rect x="3.2" y="12.0" width="1.800" height="1.600" fill="#f3f7ff"/><rect x="5.800000000000001" y="6.6" width="1.800" height="1.600" fill="#f3f7ff"/><rect x="5.800000000000001" y="9.3" width="1.800" height="1.600" fill="#f3f7ff"/><rect x="5.800000000000001" y="12.0" width="1.800" height="1.600" fill="#f3f7ff"/><rect x="8.4" y="6.6" width="1.800" height="1.600" fill="#f3f7ff"/><rect x="8.4" y="9.3" width="1.800" height="1.600" fill="#f3f7ff"/><rect x="8.4" y="12.0" width="1.800" height="1.600" fill="#f3f7ff"/><rect x="11.0" y="6.6" width="1.800" height="1.600" fill="#f3f7ff"/><rect x="11.0" y="9.3" width="1.800" height="1.600" fill="#f3f7ff"/><rect x="11.0" y="12.0" width="1.800" height="1.600" fill="#f3f7ff"/></svg>
<span class="t" style="left:68.9px;top:681px;font-size:10.7px;color:#000;letter-spacing:-0.025px;">Scoring</span>
<div style="position:absolute;left:38px;top:136px;width:1px;height:105px;background-image:repeating-linear-gradient(to bottom,#8a8a8a 0 1px,transparent 1px 2px);"></div>
<div style="position:absolute;left:38px;top:280px;width:1px;height:121px;background-image:repeating-linear-gradient(to bottom,#8a8a8a 0 1px,transparent 1px 2px);"></div>
<div style="position:absolute;left:38px;top:424px;width:1px;height:121px;background-image:repeating-linear-gradient(to bottom,#8a8a8a 0 1px,transparent 1px 2px);"></div>
<div style="position:absolute;left:38px;top:568px;width:1px;height:121px;background-image:repeating-linear-gradient(to bottom,#8a8a8a 0 1px,transparent 1px 2px);"></div>
<div style="position:absolute;left:213px;top:82px;width:1007px;height:748px;background:#f0f0f0;border-left:1px solid #929292;border-top:1px solid #929292;"></div>
<div style="position:absolute;left:214px;top:83px;width:1006px;height:20px;background:linear-gradient(#f0f0f0,#f4f4f4 40%,#fbfbfb);"></div>
<div style="position:absolute;left:214px;top:103px;width:1004px;height:1px;background:#8f8f8f;"></div>
<svg style="position:absolute;left:214px;top:83px" width="440" height="22" viewBox="214 83 440 22"><defs><linearGradient id="tg" x1="0" y1="0" x2="0" y2="1"><stop offset="0" stop-color="#ffffff"/><stop offset="1" stop-color="#efefef"/></linearGradient></defs><path d="M222.500 103.500 L239.500 87.500 Q240.500 86.500 242 86.500 L278 86.500 Q280.500 86.500 280.500 89 L280.500 103.500" fill="url(#tg)" stroke="#8f8f8f"/><path d="M280.500 103.500 L280.500 89 Q280.500 86.500 283 86.500 L353 86.500 Q355.500 86.500 355.500 89 L355.500 103.500" fill="url(#tg)" stroke="#8f8f8f"/><path d="M355.500 103.500 L355.500 89 Q355.500 86.500 358 86.500 L444 86.500 L446.500 89 L446.500 103.500" fill="url(#tg)" stroke="#8f8f8f"/><path d="M508.500 103.500 L508.500 89 Q508.500 86.500 511 86.500 L561 86.500 Q563.500 86.500 563.500 89 L563.500 103.500" fill="url(#tg)" stroke="#8f8f8f"/><path d="M563.500 103.500 L563.500 89 Q563.500 86.500 566 86.500 L636 86.500 Q638.500 86.500 638.500 89 L638.500 103.500" fill="url(#tg)" stroke="#8f8f8f"/><path d="M433 104.500 L449 88 Q450.500 86.500 452.500 86.500 L505 86.500 Q507.500 86.500 507.500 89 L507.500 104.500 Z" fill="#fafafa" stroke="none"/><path d="M433 103.500 L449 88 Q450.500 86.500 452.500 86.500 L505 86.500 Q507.500 86.500 507.500 89 L507.500 103.500" fill="none" stroke="#858585"/></svg>
<span class="t" style="left:240.9px;top:88px;font-size:12px;color:#000;letter-spacing:0.695px;">Home</span>
<span class="t" style="left:286.4px;top:88px;font-size:12px;color:#000;letter-spacing:-0.180px;">LungDeaths</span>
<span class="t" style="left:360.4px;top:88px;font-size:12px;color:#000;letter-spacing:-0.203px;">SatelliteImages</span>
<span class="t" style="left:452.1px;top:88px;font-size:12px;color:#000;letter-spacing:-0.688px;font-weight:bold;">LoanRisk</span>
<span class="t" style="left:513.0px;top:88px;font-size:12px;color:#000;letter-spacing:-0.254px;">Diabetes</span>
<span class="t" style="left:569.2px;top:88px;font-size:12px;color:#000;letter-spacing:-0.313px;">Emotiv-EEG</span>
<svg style="position:absolute;left:1178px;top:86px" width="40" height="12" viewBox="0 0 40 12"><path d="M6.500 1.500 L2 5.500 L6.500 9.500Z" fill="none" stroke="#000" stroke-width="1"/><path d="M16.500 1.500 L21 5.500 L16.500 9.500Z" fill="none" stroke="#000" stroke-width="1"/><path d="M28.500 3.300 L35.500 9.700 M35.500 3.300 L28.500 9.700" stroke="#000" stroke-width="1.700"/></svg>
<div style="position:absolute;left:217px;top:107px;width:1000px;height:717px;background:#e8eaf0;border-style:solid;border-width:4px;border-color:#696969 #ffffff #ffffff #696969;"></div>
<div style="position:absolute;left:217px;top:107px;width:998px;height:1px;background:#a6a6a6;"></div>
<div style="position:absolute;left:217px;top:107px;width:1px;height:715px;background:#a6a6a6;"></div>
<div style="position:absolute;left:219px;top:109px;width:995px;height:1px;background:#a0a0a0;"></div>
<div style="position:absolute;left:219px;top:109px;width:1px;height:712px;background:#a0a0a0;"></div>
<div style="position:absolute;left:1213px;top:111px;width:4px;height:713px;background:linear-gradient(to right,#f0f0f0,#ffffff 40%,#f4f4f4);"></div>
<div style="position:absolute;left:221px;top:820px;width:996px;height:4px;background:linear-gradient(#f0f0f0,#ffffff 50%,#f3f3f3);"></div>
<div style="position:absolute;left:349px;top:111px;width:1px;height:101px;background:#4a4a4a;"></div>
<div style="position:absolute;left:221px;top:212px;width:992px;height:1px;background:#5a5a5a;"></div>
<div style="position:absolute;left:221px;top:248px;width:992px;height:1px;background:#000;"></div>
<div style="position:absolute;left:221px;top:248px;width:1px;height:90px;background:#000;"></div>
<div style="position:absolute;left:221px;top:337px;width:992px;height:1px;background:#000;"></div>
<svg style="position:absolute;left:260px;top:143.9px" width="14" height="14" viewBox="0 0 14 14"><defs><radialGradient id="rg267150" cx=".4" cy=".35" r=".7"><stop offset="0" stop-color="#f6f6f6"/><stop offset=".6" stop-color="#e2e4e6"/><stop offset="1" stop-color="#c2c6cc"/></radialGradient></defs><circle cx="7" cy="7" r="5.500" fill="url(#rg267150)" stroke="#8a8f96" stroke-width="1"/></svg>
<span class="t" style="left:276.9px;top:144px;font-size:10.7px;color:#000;letter-spacing:-0.031px;">Training</span>
<svg style="position:absolute;left:260px;top:163.9px" width="14" height="14" viewBox="0 0 14 14"><defs><radialGradient id="rg267170" cx=".4" cy=".35" r=".7"><stop offset="0" stop-color="#f6f6f6"/><stop offset=".6" stop-color="#e2e4e6"/><stop offset="1" stop-color="#c2c6cc"/></radialGradient></defs><circle cx="7" cy="7" r="5.500" fill="url(#rg267170)" stroke="#8a8f96" stroke-width="1"/><circle cx="7" cy="7" r="3.300" fill="#173f6e"/><circle cx="7" cy="7.300" r="2.200" fill="#2b9be6"/><circle cx="6.300" cy="6.200" r="1.100" fill="#8fdcff"/></svg>
<span class="t" style="left:276.8px;top:164px;font-size:10.7px;color:#000;letter-spacing:-0.040px;">Validation</span>
<span class="t" style="left:387.0px;top:129px;font-size:10.7px;color:#000;letter-spacing:0.093px;">Best Fitness:</span>
<span class="t" style="left:387.0px;top:156px;font-size:10.7px;color:#000;letter-spacing:0.210px;">Accuracy:</span>
<span class="t" style="left:387.0px;top:183px;font-size:10.7px;color:#000;letter-spacing:0.047px;">Max Fitness:</span>
<div style="position:absolute;left:480px;top:129px;width:173px;height:17px;background:#fff;"></div>
<div style="position:absolute;left:480px;top:156px;width:173px;height:17px;background:#fff;"></div>
<div style="position:absolute;left:480px;top:183px;width:173px;height:17px;background:#fff;"></div>
<span class="t" style="left:482.9px;top:129px;font-size:10.7px;color:#000;letter-spacing:0.097px;">771.236047073346</span>
<span class="t" style="left:482.9px;top:156px;font-size:10.7px;color:#000;letter-spacing:0.375px;">78.38% (261)</span>
<span class="t" style="left:482.9px;top:183px;font-size:10.7px;color:#000;letter-spacing:-0.060px;">1000</span>
<div style="position:absolute;left:692px;top:120px;width:265px;height:86px;border:1px solid #d3dde4;border-radius:3px;box-shadow:inset 1px 1px 0 #fff, 1px 1px 0 #fff;"></div>
<div style="position:absolute;left:777px;top:116px;width:94px;height:12px;background:#e8eaf0;"></div>
<span class="t" style="left:782.6px;top:114px;font-size:10.7px;color:#000;letter-spacing:0.140px;">Confusion Matrix</span>
<span class="t" style="left:752.6px;top:137px;font-size:10.7px;color:#1f8a2a;letter-spacing:-0.011px;">202 (TP)</span>
<span class="t" style="left:856.4px;top:137px;font-size:10.7px;color:#8e1b22;letter-spacing:-0.006px;">32 (FN)</span>
<span class="t" style="left:755.6px;top:160px;font-size:10.7px;color:#8e1b22;letter-spacing:-0.057px;">40 (FP)</span>
<span class="t" style="left:856.4px;top:161px;font-size:10.7px;color:#1f8a2a;letter-spacing:-0.006px;">59 (TN)</span>
<div style="position:absolute;left:703px;top:185px;width:13px;height:13px;background:linear-gradient(135deg,#dfe2e8,#fbfbfc);border:1px solid #8a9099;"></div>
<span class="t" style="left:718.4px;top:185px;font-size:10.7px;color:#000;letter-spacing:-0.022px;">Show in Percentages</span>
<span class="t" style="left:1110.7px;top:185px;font-size:10.7px;color:#000;letter-spacing:-0.125px;">Model*:</span>
<div style="position:absolute;left:1151px;top:183px;width:36px;height:20px;background:#fff;border-radius:2px;border:1px solid #f4f5f8;"></div>
<span class="t" style="left:1153.3px;top:186px;font-size:11px;color:#000;letter-spacing:0.250px;">13</span>
<div style="position:absolute;left:1188px;top:183px;width:17px;height:9px;background:#e4e4e4;border-style:solid;border-width:1px 2px 2px 1px;border-color:#fff #707070 #707070 #fff;box-shadow:inset -1px -1px 0 #a6a6a6;"></div>
<div style="position:absolute;left:1188px;top:194px;width:17px;height:10px;background:#e4e4e4;border-style:solid;border-width:1px 2px 2px 1px;border-color:#fff #707070 #707070 #fff;box-shadow:inset -1px -1px 0 #a6a6a6;"></div>
<svg style="position:absolute;left:1193px;top:185px" width="6" height="16" viewBox="0 0 6 16"><path d="M.5 3.500L2.500 1L4.500 3.500Z M.5 12L2.500 14.500L4.500 12Z" fill="#000"/></svg>
<svg style="position:absolute;left:260px;top:223.9px" width="14" height="14" viewBox="0 0 14 14"><defs><radialGradient id="rg267230" cx=".4" cy=".35" r=".7"><stop offset="0" stop-color="#f6f6f6"/><stop offset=".6" stop-color="#e2e4e6"/><stop offset="1" stop-color="#c2c6cc"/></radialGradient></defs><circle cx="7" cy="7" r="5.500" fill="url(#rg267230)" stroke="#8a8f96" stroke-width="1"/></svg>
<span class="t" style="left:276.2px;top:224px;font-size:10.7px;color:#000;letter-spacing:0.209px;">Table</span>
<svg style="position:absolute;left:317.3px;top:223.9px" width="14" height="14" viewBox="0 0 14 14"><defs><radialGradient id="rg324530" cx=".4" cy=".35" r=".7"><stop offset="0" stop-color="#f6f6f6"/><stop offset=".6" stop-color="#e2e4e6"/><stop offset="1" stop-color="#c2c6cc"/></radialGradient></defs><circle cx="7" cy="7" r="5.500" fill="url(#rg324530)" stroke="#8a8f96" stroke-width="1"/><circle cx="7" cy="7" r="3.300" fill="#173f6e"/><circle cx="7" cy="7.300" r="2.200" fill="#2b9be6"/><circle cx="6.300" cy="6.200" r="1.100" fill="#8fdcff"/></svg>
<span class="t" style="left:333.2px;top:224px;font-size:10.7px;color:#000;letter-spacing:0.263px;">Charts</span>
<div style="position:absolute;left:376px;top:219px;width:145px;height:21px;background:linear-gradient(#f4f4f4,#ebebeb 50%,#dedede 51%,#d2d2d2);border:1px solid #6f6f6f;border-radius:3px;box-shadow:inset 0 0 0 1px #fbfbfb;"></div>
<span class="t" style="left:378.9px;top:223px;font-size:10.7px;color:#000;letter-spacing:0.121px;">Classification Tapestry</span>
<svg style="position:absolute;left:508px;top:227px" width="9" height="6" viewBox="0 0 9 6"><path d="M.8 .8H8.200L4.500 5.200Z" fill="#000"/></svg>
<span class="t" style="left:523.6px;top:223px;font-size:13px;color:#0a8a1a;font-weight:bold;text-decoration:underline;">&lt;&lt;</span>
<span class="t" style="left:547.4px;top:223px;font-size:13px;color:#8a8a8a;text-decoration:underline;">&gt;&gt;</span>
<div style="position:absolute;left:575px;top:219px;width:90px;height:21px;background:#eaecf1;border:1px solid #c3c7cf;box-shadow:inset 1px 1px 0 #d6d9e0;"></div>
<div style="position:absolute;left:575px;top:238px;width:2px;height:2px;background:#333;"></div>
<div style="position:absolute;left:663px;top:238px;width:2px;height:2px;background:#555;"></div>
<span class="t" style="left:577.7px;top:223px;font-size:10.7px;color:#8b8b8b;letter-spacing:0.500px;">Both</span>
<svg style="position:absolute;left:651px;top:227px" width="9" height="6" viewBox="0 0 9 6"><path d="M.8 .8H8.200L4.500 5.200Z" fill="#9a9a9a"/></svg>
<div style="position:absolute;left:674px;top:221px;width:75px;height:19px;background:linear-gradient(#f5f5f5,#ececec 48%,#dddddd 52%,#cfcfcf);border:1px solid #6e6e6e;border-radius:3px;box-shadow:inset 0 0 0 1px #fcfcfc;"></div>
<span class="t" style="left:691.0px;top:224px;font-size:10.7px;color:#000;letter-spacing:0.194px;">Refresh</span>
<div style="position:absolute;left:757px;top:221px;width:75px;height:19px;background:linear-gradient(#f5f5f5,#ececec 48%,#dddddd 52%,#cfcfcf);border:1px solid #6e6e6e;border-radius:3px;box-shadow:inset 0 0 0 1px #fcfcfc;"></div>
<span class="t" style="left:774.4px;top:224px;font-size:10.7px;color:#000;letter-spacing:0.572px;">More...</span>
<div style="position:absolute;left:840px;top:221px;width:75px;height:19px;background:#f2f3f5;border:1px solid #b5b9c0;border-radius:3px;"></div>
<span class="t" style="left:858.0px;top:224px;font-size:10.7px;color:#8d8d8d;letter-spacing:0.486px;">Save...</span>
<span class="t" style="left:230.3px;top:258px;font-size:10.7px;color:#000;letter-spacing:0.172px;">Accuracy:</span>
<span class="t" style="left:230.3px;top:277px;font-size:10.7px;color:#000;letter-spacing:0.336px;">Error:</span>
<span class="t" style="left:230.3px;top:295px;font-size:10.7px;color:#000;letter-spacing:0.173px;">Sensitivity:</span>
<span class="t" style="left:230.3px;top:314px;font-size:10.7px;color:#000;letter-spacing:0.082px;">Specificity:</span>
<span class="t" style="left:295.8px;top:258px;font-size:10.7px;color:#000;letter-spacing:0.339px;">78.38% (261)</span>
<span class="t" style="left:295.8px;top:277px;font-size:10.7px;color:#000;letter-spacing:0.337px;">21.62% (72)</span>
<span class="t" style="left:295.8px;top:295px;font-size:10.7px;color:#000;letter-spacing:0.630px;">86.32%</span>
<span class="t" style="left:295.8px;top:314px;font-size:10.7px;color:#000;letter-spacing:0.630px;">59.60%</span>
<span class="t" style="left:394.8px;top:258px;font-size:10.7px;color:#000;letter-spacing:-0.456px;">PPV:</span>
<span class="t" style="left:394.8px;top:277px;font-size:10.7px;color:#000;letter-spacing:-0.321px;">NPV:</span>
<span class="t" style="left:394.8px;top:295px;font-size:10.7px;color:#000;letter-spacing:0.215px;">Matthews Correl:</span>
<span class="t" style="left:394.8px;top:314px;font-size:10.7px;color:#000;letter-spacing:-0.224px;">AUC ROC:</span>
<span class="t" style="left:490.2px;top:258px;font-size:10.7px;color:#000;letter-spacing:0.730px;">83.47%</span>
<span class="t" style="left:490.2px;top:277px;font-size:10.7px;color:#000;letter-spacing:0.730px;">64.84%</span>
<span class="t" style="left:490.2px;top:295px;font-size:10.7px;color:#000;letter-spacing:0.177px;">0.47098392089263</span>
<span class="t" style="left:490.2px;top:314px;font-size:10.7px;color:#000;letter-spacing:0.226px;">0.820728654061987</span>
<span class="t" style="left:609.6px;top:258px;font-size:10.7px;color:#000;letter-spacing:0.055px;">Recall:</span>
<span class="t" style="left:609.6px;top:277px;font-size:10.7px;color:#000;letter-spacing:0.040px;">Precision:</span>
<span class="t" style="left:609.6px;top:295px;font-size:10.7px;color:#000;letter-spacing:0.110px;">F1 Measure:</span>
<span class="t" style="left:609.6px;top:314px;font-size:10.7px;color:#000;letter-spacing:-0.001px;">Jaccard Similarity:</span>
<span class="t" style="left:704.8px;top:258px;font-size:10.7px;color:#000;letter-spacing:0.870px;">86.32%</span>
<span class="t" style="left:704.8px;top:277px;font-size:10.7px;color:#000;letter-spacing:0.870px;">83.47%</span>
<span class="t" style="left:704.8px;top:295px;font-size:10.7px;color:#000;letter-spacing:0.214px;">0.848739495798319</span>
<span class="t" style="left:704.8px;top:314px;font-size:10.7px;color:#000;letter-spacing:0.214px;">0.737226277372263</span>
<span class="t" style="left:824.6px;top:258px;font-size:10.7px;color:#000;letter-spacing:0.387px;">Correl:</span>
<span class="t" style="left:824.6px;top:277px;font-size:10.7px;color:#000;letter-spacing:0.233px;">R-square:</span>
<span class="t" style="left:824.6px;top:295px;font-size:10.7px;color:#000;letter-spacing:0.134px;">Calc. Errors:</span>
<span class="t" style="left:824.6px;top:314px;font-size:10.7px;color:#000;letter-spacing:0.048px;">Rounding Threshold:</span>
<span class="t" style="left:935.6px;top:258px;font-size:10.7px;color:#000;letter-spacing:0.151px;">0.504758168335418</span>
<span class="t" style="left:935.6px;top:277px;font-size:10.7px;color:#000;letter-spacing:0.151px;">0.254780808501326</span>
<span class="t" style="left:935.6px;top:295px;font-size:10.7px;color:#000;">0</span>
<span class="t" style="left:935.6px;top:314px;font-size:10.7px;color:#000;letter-spacing:0.151px;">0.868956284384973</span>
<div style="position:absolute;left:222px;top:338px;width:991px;height:482px;background:#f1f1f1;"></div>
<div style="position:absolute;left:224px;top:338px;width:491px;height:474px;background:#fffaf0;border:1px solid #5c5c5c;border-radius:3px;"></div>
<svg style="position:absolute;left:224px;top:338px" width="491" height="430" viewBox="0 0 491 430" shape-rendering="crispEdges"><path fill="#c0c0c0" d="M3 3h18v29h-18zM22 3h19v29h-19zM42 3h18v29h-18zM61 3h19v29h-19zM100 3h19v29h-19zM139 3h19v29h-19zM178 3h19v29h-19zM217 3h19v29h-19zM237 3h18v29h-18zM295 3h19v29h-19zM315 3h18v29h-18zM334 3h19v29h-19zM354 3h18v29h-18zM393 3h18v29h-18zM412 3h19v29h-19zM432 3h18v29h-18zM451 3h19v29h-19zM471 3h18v29h-18zM3 33h18v29h-18zM22 33h19v29h-19zM42 33h18v29h-18zM61 33h19v29h-19zM81 33h18v29h-18zM100 33h19v29h-19zM120 33h18v29h-18zM178 33h19v29h-19zM198 33h18v29h-18zM217 33h19v29h-19zM237 33h18v29h-18zM295 33h19v29h-19zM315 33h18v29h-18zM334 33h19v29h-19zM354 33h18v29h-18zM373 33h19v29h-19zM393 33h18v29h-18zM3 63h18v29h-18zM22 63h19v29h-19zM61 63h19v29h-19zM81 63h18v29h-18zM120 63h18v29h-18zM159 63h18v29h-18zM178 63h19v29h-19zM198 63h18v29h-18zM217 63h19v29h-19zM237 63h18v29h-18zM256 63h19v29h-19zM276 63h18v29h-18zM295 63h19v29h-19zM315 63h18v29h-18zM354 63h18v29h-18zM373 63h19v29h-19zM451 63h19v29h-19zM42 93h18v29h-18zM61 93h19v29h-19zM81 93h18v29h-18zM100 93h19v29h-19zM120 93h18v29h-18zM159 93h18v29h-18zM178 93h19v29h-19zM198 93h18v29h-18zM217 93h19v29h-19zM237 93h18v29h-18zM256 93h19v29h-19zM295 93h19v29h-19zM315 93h18v29h-18zM334 93h19v29h-19zM354 93h18v29h-18zM393 93h18v29h-18zM432 93h18v29h-18zM471 93h18v29h-18zM3 123h18v29h-18zM22 123h19v29h-19zM81 123h18v29h-18zM100 123h19v29h-19zM120 123h18v29h-18zM159 123h18v29h-18zM178 123h19v29h-19zM217 123h19v29h-19zM237 123h18v29h-18zM256 123h19v29h-19zM276 123h18v29h-18zM315 123h18v29h-18zM334 123h19v29h-19zM354 123h18v29h-18zM451 123h19v29h-19zM471 123h18v29h-18zM3 153h18v29h-18zM42 153h18v29h-18zM61 153h19v29h-19zM81 153h18v29h-18zM120 153h18v29h-18zM139 153h19v29h-19zM178 153h19v29h-19zM198 153h18v29h-18zM237 153h18v29h-18zM256 153h19v29h-19zM295 153h19v29h-19zM315 153h18v29h-18zM334 153h19v29h-19zM354 153h18v29h-18zM373 153h19v29h-19zM412 153h19v29h-19zM432 153h18v29h-18zM3 183h18v29h-18zM42 183h18v29h-18zM61 183h19v29h-19zM100 183h19v29h-19zM139 183h19v29h-19zM159 183h18v29h-18zM178 183h19v29h-19zM217 183h19v29h-19zM237 183h18v29h-18zM315 183h18v29h-18zM393 183h18v29h-18zM412 183h19v29h-19zM432 183h18v29h-18zM451 183h19v29h-19zM3 213h18v29h-18zM22 213h19v29h-19zM42 213h18v29h-18zM61 213h19v29h-19zM81 213h18v29h-18zM100 213h19v29h-19zM159 213h18v29h-18zM178 213h19v29h-19zM198 213h18v29h-18zM237 213h18v29h-18zM256 213h19v29h-19zM276 213h18v29h-18zM295 213h19v29h-19zM315 213h18v29h-18zM334 213h19v29h-19zM354 213h18v29h-18zM373 213h19v29h-19zM393 213h18v29h-18zM412 213h19v29h-19zM432 213h18v29h-18zM451 213h19v29h-19zM471 213h18v29h-18zM3 243h18v29h-18zM42 243h18v29h-18zM61 243h19v29h-19zM81 243h18v29h-18zM100 243h19v29h-19zM139 243h19v29h-19zM159 243h18v29h-18zM178 243h19v29h-19zM198 243h18v29h-18zM276 243h18v29h-18zM315 243h18v29h-18zM334 243h19v29h-19zM354 243h18v29h-18zM373 243h19v29h-19zM393 243h18v29h-18zM432 243h18v29h-18zM3 273h18v29h-18zM22 273h19v29h-19zM42 273h18v29h-18zM81 273h18v29h-18zM159 273h18v29h-18zM178 273h19v29h-19zM217 273h19v29h-19zM237 273h18v29h-18zM256 273h19v29h-19zM276 273h18v29h-18zM295 273h19v29h-19zM334 273h19v29h-19zM354 273h18v29h-18zM373 273h19v29h-19zM393 273h18v29h-18zM412 273h19v29h-19zM451 273h19v29h-19zM471 273h18v29h-18zM3 303h18v29h-18zM22 303h19v29h-19zM42 303h18v29h-18zM61 303h19v29h-19zM81 303h18v29h-18zM100 303h19v29h-19zM120 303h18v29h-18zM139 303h19v29h-19zM198 303h18v29h-18zM217 303h19v29h-19zM276 303h18v29h-18zM295 303h19v29h-19zM315 303h18v29h-18zM334 303h19v29h-19zM354 303h18v29h-18zM373 303h19v29h-19zM432 303h18v29h-18zM471 303h18v29h-18zM3 333h18v29h-18zM42 333h18v29h-18zM61 333h19v29h-19zM81 333h18v29h-18zM100 333h19v29h-19zM120 333h18v29h-18zM139 333h19v29h-19zM159 333h18v29h-18zM178 333h19v29h-19zM217 333h19v29h-19zM256 333h19v29h-19zM276 333h18v29h-18zM295 333h19v29h-19zM315 333h18v29h-18zM334 333h19v29h-19zM354 333h18v29h-18zM373 333h19v29h-19zM393 333h18v29h-18zM412 333h19v29h-19zM451 333h19v29h-19zM3 363h18v29h-18zM22 363h19v29h-19zM42 363h18v29h-18zM61 363h19v29h-19zM81 363h18v29h-18zM100 363h19v29h-19zM178 363h19v29h-19zM198 363h18v29h-18zM217 363h19v29h-19zM256 363h19v29h-19zM276 363h18v29h-18zM295 363h19v29h-19zM334 363h19v29h-19zM354 363h18v29h-18zM373 363h19v29h-19zM432 363h18v29h-18zM451 363h19v29h-19zM471 363h18v29h-18zM3 393h18v29h-18zM42 393h18v29h-18zM61 393h19v29h-19zM81 393h18v29h-18zM139 393h19v29h-19z"/><path fill="#ffcccc" d="M120 3h18v29h-18zM159 3h18v29h-18zM198 3h18v29h-18zM276 3h18v29h-18zM373 3h19v29h-19zM256 33h19v29h-19zM276 33h18v29h-18zM432 33h18v29h-18zM451 33h19v29h-19zM471 33h18v29h-18zM42 63h18v29h-18zM334 63h19v29h-19zM393 63h18v29h-18zM412 63h19v29h-19zM432 63h18v29h-18zM471 63h18v29h-18zM22 93h19v29h-19zM276 93h18v29h-18zM412 93h19v29h-19zM42 123h18v29h-18zM61 123h19v29h-19zM139 123h19v29h-19zM198 123h18v29h-18zM373 123h19v29h-19zM393 123h18v29h-18zM412 123h19v29h-19zM432 123h18v29h-18zM22 153h19v29h-19zM100 153h19v29h-19zM276 153h18v29h-18zM451 153h19v29h-19zM471 153h18v29h-18zM81 183h18v29h-18zM256 183h19v29h-19zM276 183h18v29h-18zM295 183h19v29h-19zM373 183h19v29h-19zM120 213h18v29h-18zM139 213h19v29h-19zM120 243h18v29h-18zM256 243h19v29h-19zM295 243h19v29h-19zM451 243h19v29h-19zM471 243h18v29h-18zM139 273h19v29h-19zM198 273h18v29h-18zM315 273h18v29h-18zM159 303h18v29h-18zM237 303h18v29h-18zM256 303h19v29h-19zM22 333h19v29h-19zM198 333h18v29h-18zM237 333h18v29h-18zM471 333h18v29h-18zM315 363h18v29h-18zM393 363h18v29h-18zM22 393h19v29h-19zM100 393h19v29h-19zM120 393h18v29h-18z"/><path fill="#f00000" d="M81 3h18v29h-18zM256 3h19v29h-19zM139 33h19v29h-19zM159 33h18v29h-18zM412 33h19v29h-19zM100 63h19v29h-19zM139 63h19v29h-19zM3 93h18v29h-18zM139 93h19v29h-19zM373 93h19v29h-19zM451 93h19v29h-19zM295 123h19v29h-19zM159 153h18v29h-18zM217 153h19v29h-19zM393 153h18v29h-18zM22 183h19v29h-19zM120 183h18v29h-18zM198 183h18v29h-18zM334 183h19v29h-19zM354 183h18v29h-18zM471 183h18v29h-18zM217 213h19v29h-19zM22 243h19v29h-19zM217 243h19v29h-19zM237 243h18v29h-18zM412 243h19v29h-19zM61 273h19v29h-19zM100 273h19v29h-19zM120 273h18v29h-18zM432 273h18v29h-18zM178 303h19v29h-19zM393 303h18v29h-18zM412 303h19v29h-19zM451 303h19v29h-19zM432 333h18v29h-18zM120 363h18v29h-18zM139 363h19v29h-19zM159 363h18v29h-18zM237 363h18v29h-18zM412 363h19v29h-19z"/></svg>
<span class="t" style="left:232.8px;top:792px;font-size:10.7px;color:#8f8f8f;letter-spacing:-0.003px;">Negatives: TN &amp; FP</span>
<span class="t" style="left:630.8px;top:792px;font-size:10.7px;color:#8f8f8f;letter-spacing:0.178px;">Points 1 to 333</span>
<div style="position:absolute;left:718px;top:338px;width:491px;height:474px;background:#fffaf0;border:1px solid #5c5c5c;border-radius:3px;"></div>
<svg style="position:absolute;left:718px;top:338px" width="491" height="430" viewBox="0 0 491 430" shape-rendering="crispEdges"><path fill="#c0c0c0" d="M81 3h18v29h-18zM120 3h18v29h-18zM159 3h18v29h-18zM198 3h18v29h-18zM256 3h19v29h-19zM276 3h18v29h-18zM373 3h19v29h-19zM139 33h19v29h-19zM159 33h18v29h-18zM256 33h19v29h-19zM276 33h18v29h-18zM412 33h19v29h-19zM432 33h18v29h-18zM451 33h19v29h-19zM471 33h18v29h-18zM42 63h18v29h-18zM100 63h19v29h-19zM139 63h19v29h-19zM334 63h19v29h-19zM393 63h18v29h-18zM412 63h19v29h-19zM432 63h18v29h-18zM471 63h18v29h-18zM3 93h18v29h-18zM22 93h19v29h-19zM139 93h19v29h-19zM276 93h18v29h-18zM373 93h19v29h-19zM412 93h19v29h-19zM451 93h19v29h-19zM42 123h18v29h-18zM61 123h19v29h-19zM139 123h19v29h-19zM198 123h18v29h-18zM295 123h19v29h-19zM373 123h19v29h-19zM393 123h18v29h-18zM412 123h19v29h-19zM432 123h18v29h-18zM22 153h19v29h-19zM100 153h19v29h-19zM159 153h18v29h-18zM217 153h19v29h-19zM276 153h18v29h-18zM393 153h18v29h-18zM451 153h19v29h-19zM471 153h18v29h-18zM22 183h19v29h-19zM81 183h18v29h-18zM120 183h18v29h-18zM198 183h18v29h-18zM256 183h19v29h-19zM276 183h18v29h-18zM295 183h19v29h-19zM334 183h19v29h-19zM354 183h18v29h-18zM373 183h19v29h-19zM471 183h18v29h-18zM120 213h18v29h-18zM139 213h19v29h-19zM217 213h19v29h-19zM22 243h19v29h-19zM120 243h18v29h-18zM217 243h19v29h-19zM237 243h18v29h-18zM256 243h19v29h-19zM295 243h19v29h-19zM412 243h19v29h-19zM451 243h19v29h-19zM471 243h18v29h-18zM61 273h19v29h-19zM100 273h19v29h-19zM120 273h18v29h-18zM139 273h19v29h-19zM198 273h18v29h-18zM315 273h18v29h-18zM432 273h18v29h-18zM159 303h18v29h-18zM178 303h19v29h-19zM237 303h18v29h-18zM256 303h19v29h-19zM393 303h18v29h-18zM412 303h19v29h-19zM451 303h19v29h-19zM22 333h19v29h-19zM198 333h18v29h-18zM237 333h18v29h-18zM432 333h18v29h-18zM471 333h18v29h-18zM120 363h18v29h-18zM139 363h19v29h-19zM159 363h18v29h-18zM237 363h18v29h-18zM315 363h18v29h-18zM393 363h18v29h-18zM412 363h19v29h-19zM22 393h19v29h-19zM100 393h19v29h-19zM120 393h18v29h-18z"/><path fill="#ffcccc" d="M3 3h18v29h-18zM22 3h19v29h-19zM42 3h18v29h-18zM61 3h19v29h-19zM100 3h19v29h-19zM217 3h19v29h-19zM295 3h19v29h-19zM334 3h19v29h-19zM354 3h18v29h-18zM393 3h18v29h-18zM412 3h19v29h-19zM432 3h18v29h-18zM451 3h19v29h-19zM471 3h18v29h-18zM3 33h18v29h-18zM22 33h19v29h-19zM42 33h18v29h-18zM61 33h19v29h-19zM81 33h18v29h-18zM100 33h19v29h-19zM120 33h18v29h-18zM178 33h19v29h-19zM198 33h18v29h-18zM217 33h19v29h-19zM237 33h18v29h-18zM295 33h19v29h-19zM315 33h18v29h-18zM334 33h19v29h-19zM354 33h18v29h-18zM373 33h19v29h-19zM3 63h18v29h-18zM22 63h19v29h-19zM61 63h19v29h-19zM81 63h18v29h-18zM120 63h18v29h-18zM159 63h18v29h-18zM178 63h19v29h-19zM217 63h19v29h-19zM237 63h18v29h-18zM256 63h19v29h-19zM276 63h18v29h-18zM295 63h19v29h-19zM315 63h18v29h-18zM354 63h18v29h-18zM373 63h19v29h-19zM451 63h19v29h-19zM42 93h18v29h-18zM61 93h19v29h-19zM81 93h18v29h-18zM100 93h19v29h-19zM120 93h18v29h-18zM178 93h19v29h-19zM198 93h18v29h-18zM217 93h19v29h-19zM237 93h18v29h-18zM256 93h19v29h-19zM295 93h19v29h-19zM315 93h18v29h-18zM334 93h19v29h-19zM354 93h18v29h-18zM393 93h18v29h-18zM432 93h18v29h-18zM471 93h18v29h-18zM3 123h18v29h-18zM22 123h19v29h-19zM81 123h18v29h-18zM100 123h19v29h-19zM159 123h18v29h-18zM178 123h19v29h-19zM217 123h19v29h-19zM237 123h18v29h-18zM256 123h19v29h-19zM276 123h18v29h-18zM315 123h18v29h-18zM334 123h19v29h-19zM471 123h18v29h-18zM3 153h18v29h-18zM42 153h18v29h-18zM61 153h19v29h-19zM81 153h18v29h-18zM120 153h18v29h-18zM139 153h19v29h-19zM178 153h19v29h-19zM198 153h18v29h-18zM237 153h18v29h-18zM256 153h19v29h-19zM295 153h19v29h-19zM315 153h18v29h-18zM334 153h19v29h-19zM354 153h18v29h-18zM373 153h19v29h-19zM412 153h19v29h-19zM3 183h18v29h-18zM42 183h18v29h-18zM139 183h19v29h-19zM178 183h19v29h-19zM217 183h19v29h-19zM237 183h18v29h-18zM393 183h18v29h-18zM412 183h19v29h-19zM432 183h18v29h-18zM451 183h19v29h-19zM3 213h18v29h-18zM22 213h19v29h-19zM42 213h18v29h-18zM61 213h19v29h-19zM81 213h18v29h-18zM100 213h19v29h-19zM159 213h18v29h-18zM198 213h18v29h-18zM256 213h19v29h-19zM276 213h18v29h-18zM315 213h18v29h-18zM334 213h19v29h-19zM354 213h18v29h-18zM373 213h19v29h-19zM451 213h19v29h-19zM471 213h18v29h-18zM61 243h19v29h-19zM81 243h18v29h-18zM100 243h19v29h-19zM139 243h19v29h-19zM159 243h18v29h-18zM178 243h19v29h-19zM198 243h18v29h-18zM276 243h18v29h-18zM315 243h18v29h-18zM334 243h19v29h-19zM354 243h18v29h-18zM373 243h19v29h-19zM393 243h18v29h-18zM432 243h18v29h-18zM3 273h18v29h-18zM22 273h19v29h-19zM42 273h18v29h-18zM81 273h18v29h-18zM178 273h19v29h-19zM217 273h19v29h-19zM237 273h18v29h-18zM256 273h19v29h-19zM276 273h18v29h-18zM334 273h19v29h-19zM354 273h18v29h-18zM373 273h19v29h-19zM393 273h18v29h-18zM412 273h19v29h-19zM451 273h19v29h-19zM471 273h18v29h-18zM3 303h18v29h-18zM22 303h19v29h-19zM42 303h18v29h-18zM61 303h19v29h-19zM81 303h18v29h-18zM100 303h19v29h-19zM120 303h18v29h-18zM198 303h18v29h-18zM217 303h19v29h-19zM276 303h18v29h-18zM295 303h19v29h-19zM315 303h18v29h-18zM334 303h19v29h-19zM354 303h18v29h-18zM373 303h19v29h-19zM432 303h18v29h-18zM471 303h18v29h-18zM3 333h18v29h-18zM42 333h18v29h-18zM61 333h19v29h-19zM100 333h19v29h-19zM120 333h18v29h-18zM139 333h19v29h-19zM159 333h18v29h-18zM178 333h19v29h-19zM217 333h19v29h-19zM256 333h19v29h-19zM295 333h19v29h-19zM315 333h18v29h-18zM334 333h19v29h-19zM373 333h19v29h-19zM393 333h18v29h-18zM412 333h19v29h-19zM451 333h19v29h-19zM3 363h18v29h-18zM22 363h19v29h-19zM42 363h18v29h-18zM61 363h19v29h-19zM81 363h18v29h-18zM100 363h19v29h-19zM198 363h18v29h-18zM217 363h19v29h-19zM256 363h19v29h-19zM276 363h18v29h-18zM295 363h19v29h-19zM334 363h19v29h-19zM354 363h18v29h-18zM373 363h19v29h-19zM451 363h19v29h-19zM3 393h18v29h-18zM42 393h18v29h-18zM61 393h19v29h-19zM81 393h18v29h-18zM139 393h19v29h-19z"/><path fill="#f00000" d="M139 3h19v29h-19zM178 3h19v29h-19zM237 3h18v29h-18zM315 3h18v29h-18zM393 33h18v29h-18zM198 63h18v29h-18zM159 93h18v29h-18zM120 123h18v29h-18zM354 123h18v29h-18zM451 123h19v29h-19zM432 153h18v29h-18zM61 183h19v29h-19zM100 183h19v29h-19zM159 183h18v29h-18zM315 183h18v29h-18zM178 213h19v29h-19zM237 213h18v29h-18zM295 213h19v29h-19zM393 213h18v29h-18zM412 213h19v29h-19zM432 213h18v29h-18zM3 243h18v29h-18zM42 243h18v29h-18zM159 273h18v29h-18zM295 273h19v29h-19zM139 303h19v29h-19zM81 333h18v29h-18zM276 333h18v29h-18zM354 333h18v29h-18zM178 363h19v29h-19zM432 363h18v29h-18zM471 363h18v29h-18z"/></svg>
<span class="t" style="left:726.4px;top:792px;font-size:10.7px;color:#8f8f8f;letter-spacing:-0.065px;">Positives: TP &amp; FN</span>
<span class="t" style="left:1124.4px;top:792px;font-size:10.7px;color:#8f8f8f;letter-spacing:0.192px;">Points 1 to 333</span>
<div style="position:absolute;left:221px;top:337px;width:992px;height:1px;background:#000;"></div>
<div style="position:absolute;left:508px;top:453px;width:142px;height:19px;background:#ffffe1;border:1px solid #5f5f5f;"></div>
<span class="t" style="left:510.4px;top:456px;font-size:12px;color:#000;letter-spacing:-0.226px;">Record 369, True Negative</span>
<div style="position:absolute;left:9px;top:829px;width:1211px;height:1px;background:#8c8c8c;"></div>
<div style="position:absolute;left:9px;top:830px;width:1211px;height:18px;background:#f0eded;"></div>
<div style="position:absolute;left:9px;top:848px;width:1211px;height:1px;background:#fff;"></div>
<div style="position:absolute;left:996px;top:831px;width:1px;height:17px;background:#c8c8c8;"></div>
<div style="position:absolute;left:997px;top:831px;width:1px;height:17px;background:#fff;"></div>
<span class="t" style="left:11.8px;top:833px;font-size:12px;color:#000;letter-spacing:-0.213px;">LR Run: LoanRisk :: Fitness Function: Bounded ROC, Logistic Threshold</span>
<span class="t" style="left:1001.9px;top:833px;font-size:12px;color:#000;letter-spacing:-0.050px;">Model 13 is active</span>
<div style="position:absolute;left:1216px;top:836px;width:2px;height:2px;background:#b8b8b8;"></div>
<div style="position:absolute;left:1212px;top:840px;width:2px;height:2px;background:#b8b8b8;"></div>
<div style="position:absolute;left:1216px;top:840px;width:2px;height:2px;background:#b8b8b8;"></div>
<div style="position:absolute;left:1208px;top:844px;width:2px;height:2px;background:#b8b8b8;"></div>
<div style="position:absolute;left:1212px;top:844px;width:2px;height:2px;background:#b8b8b8;"></div>
<div style="position:absolute;left:1216px;top:844px;width:2px;height:2px;background:#b8b8b8;"></div>
</body></html>
